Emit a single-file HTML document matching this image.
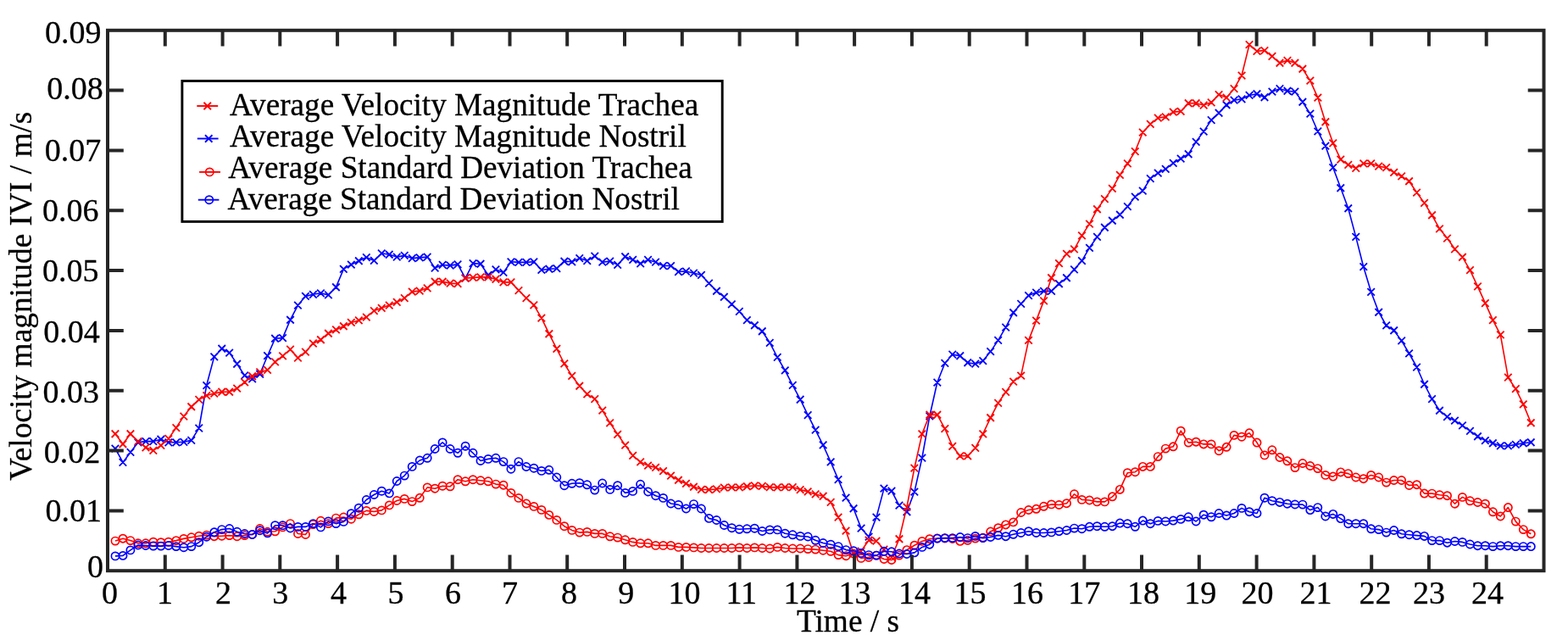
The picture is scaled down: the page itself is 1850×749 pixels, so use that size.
<!DOCTYPE html>
<html><head><meta charset="utf-8"><title>Velocity magnitude</title>
<style>html,body{margin:0;padding:0;background:#fff;width:1850px;height:749px;overflow:hidden}svg{display:block}text{font-family:"Liberation Serif",serif;fill:#000;stroke:#000;stroke-width:0.3px}</style>
</head><body>
<svg width="1850" height="749" viewBox="0 0 1850 749">
<path d="M136.0 529.0 L145.0 545.4 L153.9 533.4 L162.9 521.8 L171.9 520.6 L180.9 520.6 L189.9 518.2 L198.8 521.8 L207.8 521.8 L216.8 521.3 L225.8 519.4 L234.8 505.0 L243.7 454.5 L252.7 420.9 L261.7 411.2 L270.7 416.1 L279.7 429.3 L288.6 443.0 L297.6 446.8 L306.6 441.3 L315.6 419.7 L324.6 399.2 L333.5 398.6 L342.5 377.2 L351.5 360.1 L360.5 349.4 L369.5 347.3 L378.4 345.8 L387.4 347.9 L396.4 338.8 L405.4 317.4 L414.4 312.1 L423.3 307.8 L432.3 303.5 L441.3 307.4 L450.3 298.8 L459.3 300.3 L468.2 303.1 L477.2 301.4 L486.2 304.6 L495.2 303.9 L504.2 303.1 L513.1 316.1 L522.1 312.5 L531.1 313.1 L540.1 311.9 L549.1 328.1 L558.0 310.6 L567.0 311.2 L576.0 324.5 L585.0 317.9 L594.0 321.5 L602.9 308.8 L611.9 309.4 L620.9 309.4 L629.9 308.8 L638.9 318.5 L647.8 317.3 L656.8 316.7 L665.8 308.2 L674.8 308.8 L683.8 304.6 L692.7 307.6 L701.7 302.2 L710.7 309.2 L719.7 308.1 L728.7 312.4 L737.6 302.7 L746.6 306.5 L755.6 310.8 L764.6 306.5 L773.6 309.2 L782.5 313.5 L791.5 313.5 L800.5 320.5 L809.5 320.0 L818.5 322.2 L827.4 324.3 L836.4 334.1 L845.4 343.2 L854.4 350.3 L863.4 358.9 L872.3 367.5 L881.3 377.6 L890.3 383.7 L899.3 390.8 L908.3 404.3 L917.2 421.5 L926.2 436.8 L935.2 454.3 L944.2 471.2 L953.2 489.7 L962.1 507.2 L971.1 525.0 L980.1 544.9 L989.1 565.7 L998.1 587.1 L1007.0 599.7 L1016.0 623.1 L1025.0 633.2 L1034.0 610.1 L1043.0 576.1 L1051.9 579.1 L1060.9 596.1 L1069.9 603.7 L1078.9 580.1 L1087.9 540.0 L1096.8 491.0 L1105.8 451.0 L1114.8 428.5 L1123.8 418.1 L1132.8 419.8 L1141.7 427.8 L1150.7 429.2 L1159.7 425.7 L1168.7 414.6 L1177.7 401.4 L1186.6 386.1 L1195.6 368.8 L1204.6 358.3 L1213.6 348.6 L1222.6 345.1 L1231.5 343.4 L1240.5 343.4 L1249.5 334.7 L1258.5 327.8 L1267.5 317.9 L1276.4 307.7 L1285.4 292.3 L1294.4 279.5 L1303.4 268.3 L1312.4 260.3 L1321.3 253.2 L1330.3 243.6 L1339.3 232.1 L1348.3 225.0 L1357.3 210.6 L1366.2 204.2 L1375.2 199.4 L1384.2 192.3 L1393.2 187.2 L1402.2 181.7 L1411.1 167.3 L1420.1 155.1 L1429.1 141.7 L1438.1 133.3 L1447.1 123.8 L1456.0 118.2 L1465.0 116.8 L1474.0 112.5 L1483.0 110.7 L1492.0 114.7 L1500.9 108.1 L1509.9 104.7 L1518.9 107.3 L1527.9 108.1 L1536.9 120.3 L1545.8 134.2 L1554.8 155.0 L1563.8 172.1 L1572.8 197.7 L1581.8 221.7 L1590.7 245.8 L1599.7 279.4 L1608.7 314.7 L1617.7 344.5 L1626.7 368.2 L1635.6 384.0 L1644.6 389.7 L1653.6 401.9 L1662.6 417.0 L1671.6 433.0 L1680.5 453.2 L1689.5 470.5 L1698.5 484.3 L1707.5 491.7 L1716.5 496.2 L1725.4 501.9 L1734.4 508.3 L1743.4 514.7 L1752.4 519.6 L1761.4 522.8 L1770.3 526.0 L1779.3 526.0 L1788.3 524.4 L1797.3 522.8 L1806.3 521.8" fill="none" stroke="#0000ff" stroke-width="1.6" stroke-linejoin="round"/>
<path d="M131.7 524.8l8.5 8.5M131.7 533.3l8.5 -8.5M140.7 541.1l8.5 8.5M140.7 549.6l8.5 -8.5M149.7 529.1l8.5 8.5M149.7 537.6l8.5 -8.5M158.7 517.6l8.5 8.5M158.7 526.1l8.5 -8.5M167.7 516.4l8.5 8.5M167.7 524.9l8.5 -8.5M176.6 516.4l8.5 8.5M176.6 524.9l8.5 -8.5M185.6 514.0l8.5 8.5M185.6 522.5l8.5 -8.5M194.6 517.6l8.5 8.5M194.6 526.1l8.5 -8.5M203.6 517.6l8.5 8.5M203.6 526.1l8.5 -8.5M212.6 517.1l8.5 8.5M212.6 525.6l8.5 -8.5M221.5 515.2l8.5 8.5M221.5 523.7l8.5 -8.5M230.5 500.8l8.5 8.5M230.5 509.2l8.5 -8.5M239.5 450.3l8.5 8.5M239.5 458.8l8.5 -8.5M248.5 416.6l8.5 8.5M248.5 425.1l8.5 -8.5M257.5 407.0l8.5 8.5M257.5 415.5l8.5 -8.5M266.4 411.8l8.5 8.5M266.4 420.3l8.5 -8.5M275.4 425.0l8.5 8.5M275.4 433.5l8.5 -8.5M284.4 438.7l8.5 8.5M284.4 447.2l8.5 -8.5M293.4 442.6l8.5 8.5M293.4 451.1l8.5 -8.5M302.4 437.0l8.5 8.5M302.4 445.5l8.5 -8.5M311.3 415.4l8.5 8.5M311.3 423.9l8.5 -8.5M320.3 395.0l8.5 8.5M320.3 403.5l8.5 -8.5M329.3 394.3l8.5 8.5M329.3 402.8l8.5 -8.5M338.3 373.0l8.5 8.5M338.3 381.5l8.5 -8.5M347.2 355.9l8.5 8.5M347.2 364.4l8.5 -8.5M356.2 345.2l8.5 8.5M356.2 353.7l8.5 -8.5M365.2 343.1l8.5 8.5M365.2 351.6l8.5 -8.5M374.2 341.6l8.5 8.5M374.2 350.1l8.5 -8.5M383.2 343.7l8.5 8.5M383.2 352.2l8.5 -8.5M392.2 334.5l8.5 8.5M392.2 343.0l8.5 -8.5M401.1 313.1l8.5 8.5M401.1 321.6l8.5 -8.5M410.1 307.8l8.5 8.5M410.1 316.3l8.5 -8.5M419.1 303.5l8.5 8.5M419.1 312.0l8.5 -8.5M428.1 299.3l8.5 8.5M428.1 307.8l8.5 -8.5M437.1 303.1l8.5 8.5M437.1 311.6l8.5 -8.5M446.0 294.6l8.5 8.5M446.0 303.1l8.5 -8.5M455.0 296.0l8.5 8.5M455.0 304.5l8.5 -8.5M464.0 298.8l8.5 8.5M464.0 307.3l8.5 -8.5M473.0 297.1l8.5 8.5M473.0 305.6l8.5 -8.5M482.0 300.3l8.5 8.5M482.0 308.8l8.5 -8.5M490.9 299.7l8.5 8.5M490.9 308.2l8.5 -8.5M499.9 298.8l8.5 8.5M499.9 307.3l8.5 -8.5M508.9 311.8l8.5 8.5M508.9 320.3l8.5 -8.5M517.9 308.2l8.5 8.5M517.9 316.7l8.5 -8.5M526.9 308.8l8.5 8.5M526.9 317.3l8.5 -8.5M535.8 307.6l8.5 8.5M535.8 316.1l8.5 -8.5M544.8 323.8l8.5 8.5M544.8 332.3l8.5 -8.5M553.8 306.4l8.5 8.5M553.8 314.9l8.5 -8.5M562.8 307.0l8.5 8.5M562.8 315.5l8.5 -8.5M571.8 320.2l8.5 8.5M571.8 328.7l8.5 -8.5M580.7 313.6l8.5 8.5M580.7 322.1l8.5 -8.5M589.7 317.2l8.5 8.5M589.7 325.7l8.5 -8.5M598.7 304.6l8.5 8.5M598.7 313.1l8.5 -8.5M607.7 305.2l8.5 8.5M607.7 313.7l8.5 -8.5M616.7 305.2l8.5 8.5M616.7 313.7l8.5 -8.5M625.6 304.6l8.5 8.5M625.6 313.1l8.5 -8.5M634.6 314.2l8.5 8.5M634.6 322.7l8.5 -8.5M643.6 313.0l8.5 8.5M643.6 321.5l8.5 -8.5M652.6 312.4l8.5 8.5M652.6 320.9l8.5 -8.5M661.6 304.0l8.5 8.5M661.6 312.5l8.5 -8.5M670.5 304.6l8.5 8.5M670.5 313.1l8.5 -8.5M679.5 300.4l8.5 8.5M679.5 308.9l8.5 -8.5M688.5 303.3l8.5 8.5M688.5 311.8l8.5 -8.5M697.5 297.9l8.5 8.5M697.5 306.4l8.5 -8.5M706.5 304.9l8.5 8.5M706.5 313.4l8.5 -8.5M715.4 303.9l8.5 8.5M715.4 312.4l8.5 -8.5M724.4 308.2l8.5 8.5M724.4 316.7l8.5 -8.5M733.4 298.5l8.5 8.5M733.4 307.0l8.5 -8.5M742.4 302.2l8.5 8.5M742.4 310.7l8.5 -8.5M751.4 306.6l8.5 8.5M751.4 315.1l8.5 -8.5M760.3 302.2l8.5 8.5M760.3 310.7l8.5 -8.5M769.3 304.9l8.5 8.5M769.3 313.4l8.5 -8.5M778.3 309.3l8.5 8.5M778.3 317.8l8.5 -8.5M787.3 309.3l8.5 8.5M787.3 317.8l8.5 -8.5M796.2 316.3l8.5 8.5M796.2 324.8l8.5 -8.5M805.2 315.8l8.5 8.5M805.2 324.2l8.5 -8.5M814.2 317.9l8.5 8.5M814.2 326.4l8.5 -8.5M823.2 320.1l8.5 8.5M823.2 328.6l8.5 -8.5M832.2 329.8l8.5 8.5M832.2 338.3l8.5 -8.5M841.2 339.0l8.5 8.5M841.2 347.5l8.5 -8.5M850.1 346.0l8.5 8.5M850.1 354.5l8.5 -8.5M859.1 354.7l8.5 8.5M859.1 363.2l8.5 -8.5M868.1 363.2l8.5 8.5M868.1 371.7l8.5 -8.5M877.1 373.3l8.5 8.5M877.1 381.8l8.5 -8.5M886.1 379.5l8.5 8.5M886.1 388.0l8.5 -8.5M895.0 386.5l8.5 8.5M895.0 395.0l8.5 -8.5M904.0 400.1l8.5 8.5M904.0 408.6l8.5 -8.5M913.0 417.2l8.5 8.5M913.0 425.7l8.5 -8.5M922.0 432.6l8.5 8.5M922.0 441.1l8.5 -8.5M931.0 450.1l8.5 8.5M931.0 458.6l8.5 -8.5M939.9 467.0l8.5 8.5M939.9 475.5l8.5 -8.5M948.9 485.4l8.5 8.5M948.9 493.9l8.5 -8.5M957.9 502.9l8.5 8.5M957.9 511.4l8.5 -8.5M966.9 520.7l8.5 8.5M966.9 529.2l8.5 -8.5M975.9 540.7l8.5 8.5M975.9 549.2l8.5 -8.5M984.8 561.4l8.5 8.5M984.8 569.9l8.5 -8.5M993.8 582.8l8.5 8.5M993.8 591.3l8.5 -8.5M1002.8 595.5l8.5 8.5M1002.8 604.0l8.5 -8.5M1011.8 618.9l8.5 8.5M1011.8 627.4l8.5 -8.5M1020.8 628.9l8.5 8.5M1020.8 637.4l8.5 -8.5M1029.7 605.9l8.5 8.5M1029.7 614.4l8.5 -8.5M1038.7 571.8l8.5 8.5M1038.7 580.3l8.5 -8.5M1047.7 574.8l8.5 8.5M1047.7 583.3l8.5 -8.5M1056.7 591.9l8.5 8.5M1056.7 600.4l8.5 -8.5M1065.7 599.5l8.5 8.5M1065.7 608.0l8.5 -8.5M1074.6 575.8l8.5 8.5M1074.6 584.3l8.5 -8.5M1083.6 535.8l8.5 8.5M1083.6 544.3l8.5 -8.5M1092.6 486.7l8.5 8.5M1092.6 495.2l8.5 -8.5M1101.6 446.8l8.5 8.5M1101.6 455.3l8.5 -8.5M1110.6 424.2l8.5 8.5M1110.6 432.7l8.5 -8.5M1119.5 413.8l8.5 8.5M1119.5 422.3l8.5 -8.5M1128.5 415.5l8.5 8.5M1128.5 424.0l8.5 -8.5M1137.5 423.5l8.5 8.5M1137.5 432.0l8.5 -8.5M1146.5 424.9l8.5 8.5M1146.5 433.4l8.5 -8.5M1155.5 421.4l8.5 8.5M1155.5 429.9l8.5 -8.5M1164.4 410.3l8.5 8.5M1164.4 418.8l8.5 -8.5M1173.4 397.1l8.5 8.5M1173.4 405.6l8.5 -8.5M1182.4 381.9l8.5 8.5M1182.4 390.4l8.5 -8.5M1191.4 364.5l8.5 8.5M1191.4 373.0l8.5 -8.5M1200.4 354.1l8.5 8.5M1200.4 362.6l8.5 -8.5M1209.3 344.4l8.5 8.5M1209.3 352.9l8.5 -8.5M1218.3 340.9l8.5 8.5M1218.3 349.4l8.5 -8.5M1227.3 339.2l8.5 8.5M1227.3 347.7l8.5 -8.5M1236.3 339.2l8.5 8.5M1236.3 347.7l8.5 -8.5M1245.2 330.5l8.5 8.5M1245.2 339.0l8.5 -8.5M1254.2 323.5l8.5 8.5M1254.2 332.0l8.5 -8.5M1263.2 313.7l8.5 8.5M1263.2 322.2l8.5 -8.5M1272.2 303.4l8.5 8.5M1272.2 311.9l8.5 -8.5M1281.2 288.1l8.5 8.5M1281.2 296.6l8.5 -8.5M1290.2 275.2l8.5 8.5M1290.2 283.7l8.5 -8.5M1299.1 264.0l8.5 8.5M1299.1 272.5l8.5 -8.5M1308.1 256.0l8.5 8.5M1308.1 264.5l8.5 -8.5M1317.1 249.0l8.5 8.5M1317.1 257.5l8.5 -8.5M1326.1 239.3l8.5 8.5M1326.1 247.8l8.5 -8.5M1335.0 227.8l8.5 8.5M1335.0 236.3l8.5 -8.5M1344.0 220.8l8.5 8.5M1344.0 229.2l8.5 -8.5M1353.0 206.3l8.5 8.5M1353.0 214.8l8.5 -8.5M1362.0 199.9l8.5 8.5M1362.0 208.4l8.5 -8.5M1371.0 195.1l8.5 8.5M1371.0 203.6l8.5 -8.5M1380.0 188.1l8.5 8.5M1380.0 196.6l8.5 -8.5M1388.9 182.9l8.5 8.5M1388.9 191.4l8.5 -8.5M1397.9 177.5l8.5 8.5M1397.9 186.0l8.5 -8.5M1406.9 163.1l8.5 8.5M1406.9 171.6l8.5 -8.5M1415.9 150.9l8.5 8.5M1415.9 159.4l8.5 -8.5M1424.9 137.4l8.5 8.5M1424.9 145.9l8.5 -8.5M1433.8 129.0l8.5 8.5M1433.8 137.5l8.5 -8.5M1442.8 119.5l8.5 8.5M1442.8 128.0l8.5 -8.5M1451.8 113.9l8.5 8.5M1451.8 122.4l8.5 -8.5M1460.8 112.6l8.5 8.5M1460.8 121.1l8.5 -8.5M1469.8 108.2l8.5 8.5M1469.8 116.7l8.5 -8.5M1478.7 106.5l8.5 8.5M1478.7 115.0l8.5 -8.5M1487.7 110.5l8.5 8.5M1487.7 119.0l8.5 -8.5M1496.7 103.9l8.5 8.5M1496.7 112.4l8.5 -8.5M1505.7 100.4l8.5 8.5M1505.7 108.9l8.5 -8.5M1514.7 103.0l8.5 8.5M1514.7 111.5l8.5 -8.5M1523.6 103.9l8.5 8.5M1523.6 112.4l8.5 -8.5M1532.6 116.0l8.5 8.5M1532.6 124.5l8.5 -8.5M1541.6 129.9l8.5 8.5M1541.6 138.4l8.5 -8.5M1550.6 150.8l8.5 8.5M1550.6 159.2l8.5 -8.5M1559.6 167.8l8.5 8.5M1559.6 176.3l8.5 -8.5M1568.5 193.4l8.5 8.5M1568.5 201.9l8.5 -8.5M1577.5 217.5l8.5 8.5M1577.5 226.0l8.5 -8.5M1586.5 241.5l8.5 8.5M1586.5 250.0l8.5 -8.5M1595.5 275.2l8.5 8.5M1595.5 283.7l8.5 -8.5M1604.5 310.4l8.5 8.5M1604.5 318.9l8.5 -8.5M1613.4 340.2l8.5 8.5M1613.4 348.7l8.5 -8.5M1622.4 364.0l8.5 8.5M1622.4 372.5l8.5 -8.5M1631.4 379.7l8.5 8.5M1631.4 388.2l8.5 -8.5M1640.4 385.5l8.5 8.5M1640.4 394.0l8.5 -8.5M1649.4 397.7l8.5 8.5M1649.4 406.2l8.5 -8.5M1658.3 412.7l8.5 8.5M1658.3 421.2l8.5 -8.5M1667.3 428.8l8.5 8.5M1667.3 437.3l8.5 -8.5M1676.3 449.0l8.5 8.5M1676.3 457.5l8.5 -8.5M1685.3 466.3l8.5 8.5M1685.3 474.8l8.5 -8.5M1694.2 480.0l8.5 8.5M1694.2 488.5l8.5 -8.5M1703.2 487.4l8.5 8.5M1703.2 495.9l8.5 -8.5M1712.2 491.9l8.5 8.5M1712.2 500.4l8.5 -8.5M1721.2 497.7l8.5 8.5M1721.2 506.2l8.5 -8.5M1730.2 504.1l8.5 8.5M1730.2 512.6l8.5 -8.5M1739.2 510.5l8.5 8.5M1739.2 519.0l8.5 -8.5M1748.1 515.3l8.5 8.5M1748.1 523.8l8.5 -8.5M1757.1 518.5l8.5 8.5M1757.1 527.0l8.5 -8.5M1766.1 521.7l8.5 8.5M1766.1 530.2l8.5 -8.5M1775.1 521.7l8.5 8.5M1775.1 530.2l8.5 -8.5M1784.1 520.1l8.5 8.5M1784.1 528.6l8.5 -8.5M1793.0 518.5l8.5 8.5M1793.0 527.0l8.5 -8.5M1802.0 517.5l8.5 8.5M1802.0 526.0l8.5 -8.5" fill="none" stroke="#0000ff" stroke-width="1.8"/>
<path d="M136.0 511.7 L145.0 523.8 L153.9 511.7 L162.9 520.6 L171.9 527.8 L180.9 531.4 L189.9 525.4 L198.8 517.5 L207.8 504.5 L216.8 491.1 L225.8 479.8 L234.8 471.3 L243.7 466.5 L252.7 464.1 L261.7 462.2 L270.7 462.2 L279.7 458.1 L288.6 450.9 L297.6 443.7 L306.6 438.9 L315.6 436.5 L324.6 426.9 L333.5 420.0 L342.5 412.1 L351.5 422.1 L360.5 415.0 L369.5 405.0 L378.4 400.7 L387.4 393.2 L396.4 389.0 L405.4 384.7 L414.4 380.4 L423.3 377.9 L432.3 374.0 L441.3 366.5 L450.3 363.3 L459.3 360.1 L468.2 356.5 L477.2 351.6 L486.2 344.1 L495.2 343.0 L504.2 339.8 L513.1 332.3 L522.1 332.3 L531.1 334.1 L540.1 334.7 L549.1 328.1 L558.0 327.5 L567.0 326.9 L576.0 326.9 L585.0 329.3 L594.0 332.9 L602.9 332.9 L611.9 342.5 L620.9 351.5 L629.9 359.9 L638.9 375.1 L647.8 393.7 L656.8 411.3 L665.8 429.0 L674.8 443.4 L683.8 455.3 L692.7 464.9 L701.7 470.6 L710.7 484.1 L719.7 498.8 L728.7 512.3 L737.6 525.1 L746.6 537.3 L755.6 545.0 L764.6 549.2 L773.6 551.4 L782.5 555.6 L791.5 561.2 L800.5 566.3 L809.5 570.4 L818.5 574.2 L827.4 577.3 L836.4 577.6 L845.4 577.0 L854.4 575.2 L863.4 574.9 L872.3 574.9 L881.3 573.8 L890.3 572.8 L899.3 573.4 L908.3 574.6 L917.2 574.9 L926.2 574.6 L935.2 574.6 L944.2 577.6 L953.2 579.9 L962.1 582.9 L971.1 585.3 L980.1 592.4 L989.1 610.1 L998.1 626.1 L1007.0 653.0 L1016.0 650.0 L1025.0 637.2 L1034.0 638.2 L1043.0 648.2 L1051.9 657.2 L1060.9 635.8 L1069.9 598.1 L1078.9 552.0 L1087.9 511.8 L1096.8 489.2 L1105.8 489.2 L1114.8 505.6 L1123.8 526.4 L1132.8 537.8 L1141.7 537.8 L1150.7 528.5 L1159.7 511.8 L1168.7 492.7 L1177.7 475.3 L1186.6 462.5 L1195.6 450.0 L1204.6 443.1 L1213.6 401.4 L1222.6 378.1 L1231.5 354.9 L1240.5 327.8 L1249.5 310.5 L1258.5 299.4 L1267.5 293.9 L1276.4 277.9 L1285.4 264.1 L1294.4 246.8 L1303.4 234.6 L1312.4 222.4 L1321.3 206.4 L1330.3 192.9 L1339.3 178.5 L1348.3 156.1 L1357.3 146.5 L1366.2 139.1 L1375.2 137.8 L1384.2 132.1 L1393.2 131.4 L1402.2 121.8 L1411.1 121.8 L1420.1 124.0 L1429.1 120.8 L1438.1 111.6 L1447.1 115.1 L1456.0 104.7 L1465.0 89.0 L1474.0 52.6 L1483.0 60.4 L1492.0 59.5 L1500.9 66.5 L1509.9 74.3 L1518.9 71.3 L1527.9 74.3 L1536.9 81.2 L1545.8 95.1 L1554.8 115.1 L1563.8 143.7 L1572.8 168.8 L1581.8 188.1 L1590.7 194.5 L1599.7 198.3 L1608.7 192.9 L1617.7 192.9 L1626.7 196.1 L1635.6 197.7 L1644.6 203.5 L1653.6 207.9 L1662.6 213.7 L1671.6 227.2 L1680.5 239.4 L1689.5 253.8 L1698.5 269.8 L1707.5 281.0 L1716.5 293.8 L1725.4 303.2 L1734.4 318.6 L1743.4 337.8 L1752.4 357.7 L1761.4 377.6 L1770.3 394.9 L1779.3 445.2 L1788.3 458.7 L1797.3 476.9 L1806.3 498.7" fill="none" stroke="#ff0000" stroke-width="1.6" stroke-linejoin="round"/>
<path d="M131.7 507.5l8.5 8.5M131.7 516.0l8.5 -8.5M140.7 519.5l8.5 8.5M140.7 528.0l8.5 -8.5M149.7 507.5l8.5 8.5M149.7 516.0l8.5 -8.5M158.7 516.4l8.5 8.5M158.7 524.9l8.5 -8.5M167.7 523.6l8.5 8.5M167.7 532.1l8.5 -8.5M176.6 527.2l8.5 8.5M176.6 535.7l8.5 -8.5M185.6 521.2l8.5 8.5M185.6 529.7l8.5 -8.5M194.6 513.2l8.5 8.5M194.6 521.8l8.5 -8.5M203.6 500.3l8.5 8.5M203.6 508.8l8.5 -8.5M212.6 486.8l8.5 8.5M212.6 495.3l8.5 -8.5M221.5 475.5l8.5 8.5M221.5 484.0l8.5 -8.5M230.5 467.1l8.5 8.5M230.5 475.6l8.5 -8.5M239.5 462.3l8.5 8.5M239.5 470.8l8.5 -8.5M248.5 459.9l8.5 8.5M248.5 468.4l8.5 -8.5M257.5 458.0l8.5 8.5M257.5 466.5l8.5 -8.5M266.4 458.0l8.5 8.5M266.4 466.5l8.5 -8.5M275.4 453.9l8.5 8.5M275.4 462.4l8.5 -8.5M284.4 446.7l8.5 8.5M284.4 455.2l8.5 -8.5M293.4 439.5l8.5 8.5M293.4 448.0l8.5 -8.5M302.4 434.6l8.5 8.5M302.4 443.1l8.5 -8.5M311.3 432.2l8.5 8.5M311.3 440.7l8.5 -8.5M320.3 422.6l8.5 8.5M320.3 431.1l8.5 -8.5M329.3 415.7l8.5 8.5M329.3 424.2l8.5 -8.5M338.3 407.8l8.5 8.5M338.3 416.3l8.5 -8.5M347.2 417.8l8.5 8.5M347.2 426.3l8.5 -8.5M356.2 410.8l8.5 8.5M356.2 419.3l8.5 -8.5M365.2 400.8l8.5 8.5M365.2 409.2l8.5 -8.5M374.2 396.5l8.5 8.5M374.2 405.0l8.5 -8.5M383.2 389.0l8.5 8.5M383.2 397.5l8.5 -8.5M392.2 384.7l8.5 8.5M392.2 393.2l8.5 -8.5M401.1 380.5l8.5 8.5M401.1 389.0l8.5 -8.5M410.1 376.2l8.5 8.5M410.1 384.7l8.5 -8.5M419.1 373.6l8.5 8.5M419.1 382.1l8.5 -8.5M428.1 369.8l8.5 8.5M428.1 378.3l8.5 -8.5M437.1 362.3l8.5 8.5M437.1 370.8l8.5 -8.5M446.0 359.1l8.5 8.5M446.0 367.6l8.5 -8.5M455.0 355.9l8.5 8.5M455.0 364.4l8.5 -8.5M464.0 352.2l8.5 8.5M464.0 360.7l8.5 -8.5M473.0 347.3l8.5 8.5M473.0 355.8l8.5 -8.5M482.0 339.9l8.5 8.5M482.0 348.4l8.5 -8.5M490.9 338.8l8.5 8.5M490.9 347.3l8.5 -8.5M499.9 335.6l8.5 8.5M499.9 344.1l8.5 -8.5M508.9 328.0l8.5 8.5M508.9 336.5l8.5 -8.5M517.9 328.0l8.5 8.5M517.9 336.5l8.5 -8.5M526.9 329.8l8.5 8.5M526.9 338.3l8.5 -8.5M535.8 330.4l8.5 8.5M535.8 338.9l8.5 -8.5M544.8 323.8l8.5 8.5M544.8 332.3l8.5 -8.5M553.8 323.2l8.5 8.5M553.8 331.7l8.5 -8.5M562.8 322.6l8.5 8.5M562.8 331.1l8.5 -8.5M571.8 322.6l8.5 8.5M571.8 331.1l8.5 -8.5M580.7 325.0l8.5 8.5M580.7 333.5l8.5 -8.5M589.7 328.6l8.5 8.5M589.7 337.1l8.5 -8.5M598.7 328.6l8.5 8.5M598.7 337.1l8.5 -8.5M607.7 338.2l8.5 8.5M607.7 346.8l8.5 -8.5M616.7 347.3l8.5 8.5M616.7 355.8l8.5 -8.5M625.6 355.7l8.5 8.5M625.6 364.2l8.5 -8.5M634.6 370.9l8.5 8.5M634.6 379.4l8.5 -8.5M643.6 389.5l8.5 8.5M643.6 398.0l8.5 -8.5M652.6 407.1l8.5 8.5M652.6 415.6l8.5 -8.5M661.6 424.7l8.5 8.5M661.6 433.2l8.5 -8.5M670.5 439.1l8.5 8.5M670.5 447.6l8.5 -8.5M679.5 451.0l8.5 8.5M679.5 459.5l8.5 -8.5M688.5 460.6l8.5 8.5M688.5 469.1l8.5 -8.5M697.5 466.4l8.5 8.5M697.5 474.9l8.5 -8.5M706.5 479.9l8.5 8.5M706.5 488.4l8.5 -8.5M715.4 494.6l8.5 8.5M715.4 503.1l8.5 -8.5M724.4 508.1l8.5 8.5M724.4 516.6l8.5 -8.5M733.4 520.9l8.5 8.5M733.4 529.4l8.5 -8.5M742.4 533.1l8.5 8.5M742.4 541.6l8.5 -8.5M751.4 540.8l8.5 8.5M751.4 549.2l8.5 -8.5M760.3 544.9l8.5 8.5M760.3 553.4l8.5 -8.5M769.3 547.2l8.5 8.5M769.3 555.7l8.5 -8.5M778.3 551.3l8.5 8.5M778.3 559.8l8.5 -8.5M787.3 556.9l8.5 8.5M787.3 565.4l8.5 -8.5M796.2 562.0l8.5 8.5M796.2 570.5l8.5 -8.5M805.2 566.2l8.5 8.5M805.2 574.7l8.5 -8.5M814.2 570.0l8.5 8.5M814.2 578.5l8.5 -8.5M823.2 573.1l8.5 8.5M823.2 581.6l8.5 -8.5M832.2 573.3l8.5 8.5M832.2 581.8l8.5 -8.5M841.2 572.7l8.5 8.5M841.2 581.2l8.5 -8.5M850.1 570.9l8.5 8.5M850.1 579.4l8.5 -8.5M859.1 570.7l8.5 8.5M859.1 579.2l8.5 -8.5M868.1 570.7l8.5 8.5M868.1 579.2l8.5 -8.5M877.1 569.5l8.5 8.5M877.1 578.0l8.5 -8.5M886.1 568.6l8.5 8.5M886.1 577.1l8.5 -8.5M895.0 569.2l8.5 8.5M895.0 577.7l8.5 -8.5M904.0 570.3l8.5 8.5M904.0 578.8l8.5 -8.5M913.0 570.7l8.5 8.5M913.0 579.2l8.5 -8.5M922.0 570.3l8.5 8.5M922.0 578.8l8.5 -8.5M931.0 570.3l8.5 8.5M931.0 578.8l8.5 -8.5M939.9 573.3l8.5 8.5M939.9 581.8l8.5 -8.5M948.9 575.7l8.5 8.5M948.9 584.2l8.5 -8.5M957.9 578.7l8.5 8.5M957.9 587.2l8.5 -8.5M966.9 581.0l8.5 8.5M966.9 589.5l8.5 -8.5M975.9 588.2l8.5 8.5M975.9 596.7l8.5 -8.5M984.8 605.9l8.5 8.5M984.8 614.4l8.5 -8.5M993.8 621.9l8.5 8.5M993.8 630.4l8.5 -8.5M1002.8 648.8l8.5 8.5M1002.8 657.2l8.5 -8.5M1011.8 645.8l8.5 8.5M1011.8 654.2l8.5 -8.5M1020.8 632.9l8.5 8.5M1020.8 641.4l8.5 -8.5M1029.7 633.9l8.5 8.5M1029.7 642.4l8.5 -8.5M1038.7 643.9l8.5 8.5M1038.7 652.4l8.5 -8.5M1047.7 652.9l8.5 8.5M1047.7 661.4l8.5 -8.5M1056.7 631.5l8.5 8.5M1056.7 640.0l8.5 -8.5M1065.7 593.9l8.5 8.5M1065.7 602.4l8.5 -8.5M1074.6 547.8l8.5 8.5M1074.6 556.3l8.5 -8.5M1083.6 507.6l8.5 8.5M1083.6 516.1l8.5 -8.5M1092.6 485.0l8.5 8.5M1092.6 493.5l8.5 -8.5M1101.6 485.0l8.5 8.5M1101.6 493.5l8.5 -8.5M1110.6 501.3l8.5 8.5M1110.6 509.8l8.5 -8.5M1119.5 522.1l8.5 8.5M1119.5 530.6l8.5 -8.5M1128.5 533.6l8.5 8.5M1128.5 542.1l8.5 -8.5M1137.5 533.6l8.5 8.5M1137.5 542.1l8.5 -8.5M1146.5 524.2l8.5 8.5M1146.5 532.7l8.5 -8.5M1155.5 507.6l8.5 8.5M1155.5 516.1l8.5 -8.5M1164.4 488.5l8.5 8.5M1164.4 497.0l8.5 -8.5M1173.4 471.1l8.5 8.5M1173.4 479.6l8.5 -8.5M1182.4 458.2l8.5 8.5M1182.4 466.8l8.5 -8.5M1191.4 445.8l8.5 8.5M1191.4 454.2l8.5 -8.5M1200.4 438.8l8.5 8.5M1200.4 447.3l8.5 -8.5M1209.3 397.1l8.5 8.5M1209.3 405.6l8.5 -8.5M1218.3 373.9l8.5 8.5M1218.3 382.4l8.5 -8.5M1227.3 350.6l8.5 8.5M1227.3 359.1l8.5 -8.5M1236.3 323.5l8.5 8.5M1236.3 332.0l8.5 -8.5M1245.2 306.3l8.5 8.5M1245.2 314.8l8.5 -8.5M1254.2 295.1l8.5 8.5M1254.2 303.6l8.5 -8.5M1263.2 289.7l8.5 8.5M1263.2 298.2l8.5 -8.5M1272.2 273.6l8.5 8.5M1272.2 282.1l8.5 -8.5M1281.2 259.9l8.5 8.5M1281.2 268.4l8.5 -8.5M1290.2 242.5l8.5 8.5M1290.2 251.0l8.5 -8.5M1299.1 230.4l8.5 8.5M1299.1 238.9l8.5 -8.5M1308.1 218.2l8.5 8.5M1308.1 226.7l8.5 -8.5M1317.1 202.2l8.5 8.5M1317.1 210.7l8.5 -8.5M1326.1 188.7l8.5 8.5M1326.1 197.2l8.5 -8.5M1335.0 174.3l8.5 8.5M1335.0 182.8l8.5 -8.5M1344.0 151.8l8.5 8.5M1344.0 160.3l8.5 -8.5M1353.0 142.2l8.5 8.5M1353.0 150.7l8.5 -8.5M1362.0 134.9l8.5 8.5M1362.0 143.4l8.5 -8.5M1371.0 133.6l8.5 8.5M1371.0 142.1l8.5 -8.5M1380.0 127.8l8.5 8.5M1380.0 136.3l8.5 -8.5M1388.9 127.2l8.5 8.5M1388.9 135.7l8.5 -8.5M1397.9 117.5l8.5 8.5M1397.9 126.0l8.5 -8.5M1406.9 117.5l8.5 8.5M1406.9 126.0l8.5 -8.5M1415.9 119.8l8.5 8.5M1415.9 128.3l8.5 -8.5M1424.9 116.6l8.5 8.5M1424.9 125.1l8.5 -8.5M1433.8 107.3l8.5 8.5M1433.8 115.8l8.5 -8.5M1442.8 110.8l8.5 8.5M1442.8 119.3l8.5 -8.5M1451.8 100.4l8.5 8.5M1451.8 108.9l8.5 -8.5M1460.8 84.8l8.5 8.5M1460.8 93.3l8.5 -8.5M1469.8 48.3l8.5 8.5M1469.8 56.8l8.5 -8.5M1478.7 56.1l8.5 8.5M1478.7 64.6l8.5 -8.5M1487.7 55.3l8.5 8.5M1487.7 63.8l8.5 -8.5M1496.7 62.2l8.5 8.5M1496.7 70.7l8.5 -8.5M1505.7 70.0l8.5 8.5M1505.7 78.5l8.5 -8.5M1514.7 67.1l8.5 8.5M1514.7 75.6l8.5 -8.5M1523.6 70.0l8.5 8.5M1523.6 78.5l8.5 -8.5M1532.6 77.0l8.5 8.5M1532.6 85.5l8.5 -8.5M1541.6 90.9l8.5 8.5M1541.6 99.4l8.5 -8.5M1550.6 110.8l8.5 8.5M1550.6 119.3l8.5 -8.5M1559.6 139.5l8.5 8.5M1559.6 148.0l8.5 -8.5M1568.5 164.6l8.5 8.5M1568.5 173.1l8.5 -8.5M1577.5 183.8l8.5 8.5M1577.5 192.3l8.5 -8.5M1586.5 190.2l8.5 8.5M1586.5 198.7l8.5 -8.5M1595.5 194.1l8.5 8.5M1595.5 202.6l8.5 -8.5M1604.5 188.6l8.5 8.5M1604.5 197.1l8.5 -8.5M1613.4 188.6l8.5 8.5M1613.4 197.1l8.5 -8.5M1622.4 191.8l8.5 8.5M1622.4 200.3l8.5 -8.5M1631.4 193.4l8.5 8.5M1631.4 201.9l8.5 -8.5M1640.4 199.2l8.5 8.5M1640.4 207.7l8.5 -8.5M1649.4 203.7l8.5 8.5M1649.4 212.2l8.5 -8.5M1658.3 209.5l8.5 8.5M1658.3 218.0l8.5 -8.5M1667.3 222.9l8.5 8.5M1667.3 231.4l8.5 -8.5M1676.3 235.1l8.5 8.5M1676.3 243.6l8.5 -8.5M1685.3 249.5l8.5 8.5M1685.3 258.0l8.5 -8.5M1694.2 265.6l8.5 8.5M1694.2 274.1l8.5 -8.5M1703.2 276.8l8.5 8.5M1703.2 285.3l8.5 -8.5M1712.2 289.6l8.5 8.5M1712.2 298.1l8.5 -8.5M1721.2 299.0l8.5 8.5M1721.2 307.5l8.5 -8.5M1730.2 314.3l8.5 8.5M1730.2 322.8l8.5 -8.5M1739.2 333.6l8.5 8.5M1739.2 342.1l8.5 -8.5M1748.1 353.4l8.5 8.5M1748.1 361.9l8.5 -8.5M1757.1 373.3l8.5 8.5M1757.1 381.8l8.5 -8.5M1766.1 390.6l8.5 8.5M1766.1 399.1l8.5 -8.5M1775.1 440.9l8.5 8.5M1775.1 449.4l8.5 -8.5M1784.1 454.4l8.5 8.5M1784.1 462.9l8.5 -8.5M1793.0 472.7l8.5 8.5M1793.0 481.2l8.5 -8.5M1802.0 494.5l8.5 8.5M1802.0 503.0l8.5 -8.5" fill="none" stroke="#ff0000" stroke-width="1.8"/>
<path d="M136.0 638.1 L145.0 635.2 L153.9 637.6 L162.9 640.8 L171.9 640.8 L180.9 639.2 L189.9 639.7 L198.8 639.2 L207.8 637.6 L216.8 635.4 L225.8 633.8 L234.8 632.2 L243.7 631.1 L252.7 632.7 L261.7 632.2 L270.7 631.6 L279.7 632.7 L288.6 631.6 L297.6 630.5 L306.6 623.5 L315.6 627.3 L324.6 626.8 L333.5 621.9 L342.5 617.6 L351.5 629.5 L360.5 630.5 L369.5 618.6 L378.4 614.3 L387.4 617.6 L396.4 611.1 L405.4 610.0 L414.4 612.2 L423.3 606.8 L432.3 602.4 L441.3 603.5 L450.3 601.9 L459.3 595.9 L468.2 590.5 L477.2 588.4 L486.2 591.6 L495.2 587.3 L504.2 574.9 L513.1 576.2 L522.1 573.2 L531.1 573.8 L540.1 565.7 L549.1 567.8 L558.0 565.7 L567.0 566.8 L576.0 567.8 L585.0 571.1 L594.0 572.2 L602.9 581.4 L611.9 587.4 L620.9 594.0 L629.9 597.4 L638.9 601.4 L647.8 607.4 L656.8 613.4 L665.8 620.7 L674.8 625.4 L683.8 628.1 L692.7 627.4 L701.7 629.4 L710.7 629.4 L719.7 632.8 L728.7 634.1 L737.6 636.8 L746.6 639.4 L755.6 640.8 L764.6 640.8 L773.6 643.4 L782.5 643.4 L791.5 643.4 L800.5 645.4 L809.5 645.4 L818.5 645.9 L827.4 646.5 L836.4 646.5 L845.4 646.5 L854.4 646.5 L863.4 646.5 L872.3 645.9 L881.3 646.5 L890.3 645.9 L899.3 646.5 L908.3 647.0 L917.2 645.4 L926.2 646.5 L935.2 647.0 L944.2 647.0 L953.2 647.6 L962.1 648.1 L971.1 649.2 L980.1 650.3 L989.1 654.6 L998.1 655.7 L1007.0 653.0 L1016.0 658.4 L1025.0 657.3 L1034.0 655.1 L1043.0 659.5 L1051.9 660.5 L1060.9 655.1 L1069.9 648.6 L1078.9 643.2 L1087.9 638.4 L1096.8 635.7 L1105.8 635.0 L1114.8 635.0 L1123.8 635.5 L1132.8 638.4 L1141.7 637.3 L1150.7 635.1 L1159.7 634.1 L1168.7 627.0 L1177.7 622.7 L1186.6 618.9 L1195.6 615.9 L1204.6 604.5 L1213.6 601.5 L1222.6 600.3 L1231.5 597.3 L1240.5 594.9 L1249.5 595.5 L1258.5 593.7 L1267.5 582.8 L1276.4 589.4 L1285.4 590.0 L1294.4 591.9 L1303.4 591.9 L1312.4 585.8 L1321.3 577.4 L1330.3 557.7 L1339.3 556.7 L1348.3 550.4 L1357.3 550.4 L1366.2 538.6 L1375.2 529.1 L1384.2 526.8 L1393.2 508.2 L1402.2 522.1 L1411.1 521.2 L1420.1 523.9 L1429.1 523.9 L1438.1 531.7 L1447.1 527.3 L1456.0 513.4 L1465.0 515.2 L1474.0 510.8 L1483.0 522.1 L1492.0 536.9 L1500.9 530.8 L1509.9 539.5 L1518.9 543.8 L1527.9 551.6 L1536.9 546.5 L1545.8 549.5 L1554.8 552.6 L1563.8 560.4 L1572.8 562.1 L1581.8 556.9 L1590.7 558.6 L1599.7 563.0 L1608.7 564.7 L1617.7 560.4 L1626.7 563.0 L1635.6 569.1 L1644.6 566.5 L1653.6 566.5 L1662.6 572.5 L1671.6 571.7 L1680.5 582.1 L1689.5 582.1 L1698.5 583.8 L1707.5 584.7 L1716.5 594.2 L1725.4 586.4 L1734.4 590.8 L1743.4 592.5 L1752.4 594.2 L1761.4 603.8 L1770.3 609.0 L1779.3 598.6 L1788.3 615.1 L1797.3 624.6 L1806.3 629.8" fill="none" stroke="#ff0000" stroke-width="1.6" stroke-linejoin="round"/>
<path d="M140.6 638.1a4.6 4.6 0 1 0 -9.2 0a4.6 4.6 0 1 0 9.2 0M149.6 635.2a4.6 4.6 0 1 0 -9.2 0a4.6 4.6 0 1 0 9.2 0M158.5 637.6a4.6 4.6 0 1 0 -9.2 0a4.6 4.6 0 1 0 9.2 0M167.5 640.8a4.6 4.6 0 1 0 -9.2 0a4.6 4.6 0 1 0 9.2 0M176.5 640.8a4.6 4.6 0 1 0 -9.2 0a4.6 4.6 0 1 0 9.2 0M185.5 639.2a4.6 4.6 0 1 0 -9.2 0a4.6 4.6 0 1 0 9.2 0M194.5 639.7a4.6 4.6 0 1 0 -9.2 0a4.6 4.6 0 1 0 9.2 0M203.4 639.2a4.6 4.6 0 1 0 -9.2 0a4.6 4.6 0 1 0 9.2 0M212.4 637.6a4.6 4.6 0 1 0 -9.2 0a4.6 4.6 0 1 0 9.2 0M221.4 635.4a4.6 4.6 0 1 0 -9.2 0a4.6 4.6 0 1 0 9.2 0M230.4 633.8a4.6 4.6 0 1 0 -9.2 0a4.6 4.6 0 1 0 9.2 0M239.4 632.2a4.6 4.6 0 1 0 -9.2 0a4.6 4.6 0 1 0 9.2 0M248.3 631.1a4.6 4.6 0 1 0 -9.2 0a4.6 4.6 0 1 0 9.2 0M257.3 632.7a4.6 4.6 0 1 0 -9.2 0a4.6 4.6 0 1 0 9.2 0M266.3 632.2a4.6 4.6 0 1 0 -9.2 0a4.6 4.6 0 1 0 9.2 0M275.3 631.6a4.6 4.6 0 1 0 -9.2 0a4.6 4.6 0 1 0 9.2 0M284.3 632.7a4.6 4.6 0 1 0 -9.2 0a4.6 4.6 0 1 0 9.2 0M293.2 631.6a4.6 4.6 0 1 0 -9.2 0a4.6 4.6 0 1 0 9.2 0M302.2 630.5a4.6 4.6 0 1 0 -9.2 0a4.6 4.6 0 1 0 9.2 0M311.2 623.5a4.6 4.6 0 1 0 -9.2 0a4.6 4.6 0 1 0 9.2 0M320.2 627.3a4.6 4.6 0 1 0 -9.2 0a4.6 4.6 0 1 0 9.2 0M329.2 626.8a4.6 4.6 0 1 0 -9.2 0a4.6 4.6 0 1 0 9.2 0M338.1 621.9a4.6 4.6 0 1 0 -9.2 0a4.6 4.6 0 1 0 9.2 0M347.1 617.6a4.6 4.6 0 1 0 -9.2 0a4.6 4.6 0 1 0 9.2 0M356.1 629.5a4.6 4.6 0 1 0 -9.2 0a4.6 4.6 0 1 0 9.2 0M365.1 630.5a4.6 4.6 0 1 0 -9.2 0a4.6 4.6 0 1 0 9.2 0M374.1 618.6a4.6 4.6 0 1 0 -9.2 0a4.6 4.6 0 1 0 9.2 0M383.0 614.3a4.6 4.6 0 1 0 -9.2 0a4.6 4.6 0 1 0 9.2 0M392.0 617.6a4.6 4.6 0 1 0 -9.2 0a4.6 4.6 0 1 0 9.2 0M401.0 611.1a4.6 4.6 0 1 0 -9.2 0a4.6 4.6 0 1 0 9.2 0M410.0 610.0a4.6 4.6 0 1 0 -9.2 0a4.6 4.6 0 1 0 9.2 0M419.0 612.2a4.6 4.6 0 1 0 -9.2 0a4.6 4.6 0 1 0 9.2 0M427.9 606.8a4.6 4.6 0 1 0 -9.2 0a4.6 4.6 0 1 0 9.2 0M436.9 602.4a4.6 4.6 0 1 0 -9.2 0a4.6 4.6 0 1 0 9.2 0M445.9 603.5a4.6 4.6 0 1 0 -9.2 0a4.6 4.6 0 1 0 9.2 0M454.9 601.9a4.6 4.6 0 1 0 -9.2 0a4.6 4.6 0 1 0 9.2 0M463.9 595.9a4.6 4.6 0 1 0 -9.2 0a4.6 4.6 0 1 0 9.2 0M472.8 590.5a4.6 4.6 0 1 0 -9.2 0a4.6 4.6 0 1 0 9.2 0M481.8 588.4a4.6 4.6 0 1 0 -9.2 0a4.6 4.6 0 1 0 9.2 0M490.8 591.6a4.6 4.6 0 1 0 -9.2 0a4.6 4.6 0 1 0 9.2 0M499.8 587.3a4.6 4.6 0 1 0 -9.2 0a4.6 4.6 0 1 0 9.2 0M508.8 574.9a4.6 4.6 0 1 0 -9.2 0a4.6 4.6 0 1 0 9.2 0M517.7 576.2a4.6 4.6 0 1 0 -9.2 0a4.6 4.6 0 1 0 9.2 0M526.7 573.2a4.6 4.6 0 1 0 -9.2 0a4.6 4.6 0 1 0 9.2 0M535.7 573.8a4.6 4.6 0 1 0 -9.2 0a4.6 4.6 0 1 0 9.2 0M544.7 565.7a4.6 4.6 0 1 0 -9.2 0a4.6 4.6 0 1 0 9.2 0M553.7 567.8a4.6 4.6 0 1 0 -9.2 0a4.6 4.6 0 1 0 9.2 0M562.6 565.7a4.6 4.6 0 1 0 -9.2 0a4.6 4.6 0 1 0 9.2 0M571.6 566.8a4.6 4.6 0 1 0 -9.2 0a4.6 4.6 0 1 0 9.2 0M580.6 567.8a4.6 4.6 0 1 0 -9.2 0a4.6 4.6 0 1 0 9.2 0M589.6 571.1a4.6 4.6 0 1 0 -9.2 0a4.6 4.6 0 1 0 9.2 0M598.6 572.2a4.6 4.6 0 1 0 -9.2 0a4.6 4.6 0 1 0 9.2 0M607.5 581.4a4.6 4.6 0 1 0 -9.2 0a4.6 4.6 0 1 0 9.2 0M616.5 587.4a4.6 4.6 0 1 0 -9.2 0a4.6 4.6 0 1 0 9.2 0M625.5 594.0a4.6 4.6 0 1 0 -9.2 0a4.6 4.6 0 1 0 9.2 0M634.5 597.4a4.6 4.6 0 1 0 -9.2 0a4.6 4.6 0 1 0 9.2 0M643.5 601.4a4.6 4.6 0 1 0 -9.2 0a4.6 4.6 0 1 0 9.2 0M652.4 607.4a4.6 4.6 0 1 0 -9.2 0a4.6 4.6 0 1 0 9.2 0M661.4 613.4a4.6 4.6 0 1 0 -9.2 0a4.6 4.6 0 1 0 9.2 0M670.4 620.7a4.6 4.6 0 1 0 -9.2 0a4.6 4.6 0 1 0 9.2 0M679.4 625.4a4.6 4.6 0 1 0 -9.2 0a4.6 4.6 0 1 0 9.2 0M688.4 628.1a4.6 4.6 0 1 0 -9.2 0a4.6 4.6 0 1 0 9.2 0M697.3 627.4a4.6 4.6 0 1 0 -9.2 0a4.6 4.6 0 1 0 9.2 0M706.3 629.4a4.6 4.6 0 1 0 -9.2 0a4.6 4.6 0 1 0 9.2 0M715.3 629.4a4.6 4.6 0 1 0 -9.2 0a4.6 4.6 0 1 0 9.2 0M724.3 632.8a4.6 4.6 0 1 0 -9.2 0a4.6 4.6 0 1 0 9.2 0M733.3 634.1a4.6 4.6 0 1 0 -9.2 0a4.6 4.6 0 1 0 9.2 0M742.2 636.8a4.6 4.6 0 1 0 -9.2 0a4.6 4.6 0 1 0 9.2 0M751.2 639.4a4.6 4.6 0 1 0 -9.2 0a4.6 4.6 0 1 0 9.2 0M760.2 640.8a4.6 4.6 0 1 0 -9.2 0a4.6 4.6 0 1 0 9.2 0M769.2 640.8a4.6 4.6 0 1 0 -9.2 0a4.6 4.6 0 1 0 9.2 0M778.2 643.4a4.6 4.6 0 1 0 -9.2 0a4.6 4.6 0 1 0 9.2 0M787.1 643.4a4.6 4.6 0 1 0 -9.2 0a4.6 4.6 0 1 0 9.2 0M796.1 643.4a4.6 4.6 0 1 0 -9.2 0a4.6 4.6 0 1 0 9.2 0M805.1 645.4a4.6 4.6 0 1 0 -9.2 0a4.6 4.6 0 1 0 9.2 0M814.1 645.4a4.6 4.6 0 1 0 -9.2 0a4.6 4.6 0 1 0 9.2 0M823.1 645.9a4.6 4.6 0 1 0 -9.2 0a4.6 4.6 0 1 0 9.2 0M832.0 646.5a4.6 4.6 0 1 0 -9.2 0a4.6 4.6 0 1 0 9.2 0M841.0 646.5a4.6 4.6 0 1 0 -9.2 0a4.6 4.6 0 1 0 9.2 0M850.0 646.5a4.6 4.6 0 1 0 -9.2 0a4.6 4.6 0 1 0 9.2 0M859.0 646.5a4.6 4.6 0 1 0 -9.2 0a4.6 4.6 0 1 0 9.2 0M868.0 646.5a4.6 4.6 0 1 0 -9.2 0a4.6 4.6 0 1 0 9.2 0M876.9 645.9a4.6 4.6 0 1 0 -9.2 0a4.6 4.6 0 1 0 9.2 0M885.9 646.5a4.6 4.6 0 1 0 -9.2 0a4.6 4.6 0 1 0 9.2 0M894.9 645.9a4.6 4.6 0 1 0 -9.2 0a4.6 4.6 0 1 0 9.2 0M903.9 646.5a4.6 4.6 0 1 0 -9.2 0a4.6 4.6 0 1 0 9.2 0M912.9 647.0a4.6 4.6 0 1 0 -9.2 0a4.6 4.6 0 1 0 9.2 0M921.8 645.4a4.6 4.6 0 1 0 -9.2 0a4.6 4.6 0 1 0 9.2 0M930.8 646.5a4.6 4.6 0 1 0 -9.2 0a4.6 4.6 0 1 0 9.2 0M939.8 647.0a4.6 4.6 0 1 0 -9.2 0a4.6 4.6 0 1 0 9.2 0M948.8 647.0a4.6 4.6 0 1 0 -9.2 0a4.6 4.6 0 1 0 9.2 0M957.8 647.6a4.6 4.6 0 1 0 -9.2 0a4.6 4.6 0 1 0 9.2 0M966.7 648.1a4.6 4.6 0 1 0 -9.2 0a4.6 4.6 0 1 0 9.2 0M975.7 649.2a4.6 4.6 0 1 0 -9.2 0a4.6 4.6 0 1 0 9.2 0M984.7 650.3a4.6 4.6 0 1 0 -9.2 0a4.6 4.6 0 1 0 9.2 0M993.7 654.6a4.6 4.6 0 1 0 -9.2 0a4.6 4.6 0 1 0 9.2 0M1002.7 655.7a4.6 4.6 0 1 0 -9.2 0a4.6 4.6 0 1 0 9.2 0M1011.6 653.0a4.6 4.6 0 1 0 -9.2 0a4.6 4.6 0 1 0 9.2 0M1020.6 658.4a4.6 4.6 0 1 0 -9.2 0a4.6 4.6 0 1 0 9.2 0M1029.6 657.3a4.6 4.6 0 1 0 -9.2 0a4.6 4.6 0 1 0 9.2 0M1038.6 655.1a4.6 4.6 0 1 0 -9.2 0a4.6 4.6 0 1 0 9.2 0M1047.6 659.5a4.6 4.6 0 1 0 -9.2 0a4.6 4.6 0 1 0 9.2 0M1056.5 660.5a4.6 4.6 0 1 0 -9.2 0a4.6 4.6 0 1 0 9.2 0M1065.5 655.1a4.6 4.6 0 1 0 -9.2 0a4.6 4.6 0 1 0 9.2 0M1074.5 648.6a4.6 4.6 0 1 0 -9.2 0a4.6 4.6 0 1 0 9.2 0M1083.5 643.2a4.6 4.6 0 1 0 -9.2 0a4.6 4.6 0 1 0 9.2 0M1092.5 638.4a4.6 4.6 0 1 0 -9.2 0a4.6 4.6 0 1 0 9.2 0M1101.4 635.7a4.6 4.6 0 1 0 -9.2 0a4.6 4.6 0 1 0 9.2 0M1110.4 635.0a4.6 4.6 0 1 0 -9.2 0a4.6 4.6 0 1 0 9.2 0M1119.4 635.0a4.6 4.6 0 1 0 -9.2 0a4.6 4.6 0 1 0 9.2 0M1128.4 635.5a4.6 4.6 0 1 0 -9.2 0a4.6 4.6 0 1 0 9.2 0M1137.4 638.4a4.6 4.6 0 1 0 -9.2 0a4.6 4.6 0 1 0 9.2 0M1146.3 637.3a4.6 4.6 0 1 0 -9.2 0a4.6 4.6 0 1 0 9.2 0M1155.3 635.1a4.6 4.6 0 1 0 -9.2 0a4.6 4.6 0 1 0 9.2 0M1164.3 634.1a4.6 4.6 0 1 0 -9.2 0a4.6 4.6 0 1 0 9.2 0M1173.3 627.0a4.6 4.6 0 1 0 -9.2 0a4.6 4.6 0 1 0 9.2 0M1182.3 622.7a4.6 4.6 0 1 0 -9.2 0a4.6 4.6 0 1 0 9.2 0M1191.2 618.9a4.6 4.6 0 1 0 -9.2 0a4.6 4.6 0 1 0 9.2 0M1200.2 615.9a4.6 4.6 0 1 0 -9.2 0a4.6 4.6 0 1 0 9.2 0M1209.2 604.5a4.6 4.6 0 1 0 -9.2 0a4.6 4.6 0 1 0 9.2 0M1218.2 601.5a4.6 4.6 0 1 0 -9.2 0a4.6 4.6 0 1 0 9.2 0M1227.2 600.3a4.6 4.6 0 1 0 -9.2 0a4.6 4.6 0 1 0 9.2 0M1236.1 597.3a4.6 4.6 0 1 0 -9.2 0a4.6 4.6 0 1 0 9.2 0M1245.1 594.9a4.6 4.6 0 1 0 -9.2 0a4.6 4.6 0 1 0 9.2 0M1254.1 595.5a4.6 4.6 0 1 0 -9.2 0a4.6 4.6 0 1 0 9.2 0M1263.1 593.7a4.6 4.6 0 1 0 -9.2 0a4.6 4.6 0 1 0 9.2 0M1272.1 582.8a4.6 4.6 0 1 0 -9.2 0a4.6 4.6 0 1 0 9.2 0M1281.0 589.4a4.6 4.6 0 1 0 -9.2 0a4.6 4.6 0 1 0 9.2 0M1290.0 590.0a4.6 4.6 0 1 0 -9.2 0a4.6 4.6 0 1 0 9.2 0M1299.0 591.9a4.6 4.6 0 1 0 -9.2 0a4.6 4.6 0 1 0 9.2 0M1308.0 591.9a4.6 4.6 0 1 0 -9.2 0a4.6 4.6 0 1 0 9.2 0M1317.0 585.8a4.6 4.6 0 1 0 -9.2 0a4.6 4.6 0 1 0 9.2 0M1325.9 577.4a4.6 4.6 0 1 0 -9.2 0a4.6 4.6 0 1 0 9.2 0M1334.9 557.7a4.6 4.6 0 1 0 -9.2 0a4.6 4.6 0 1 0 9.2 0M1343.9 556.7a4.6 4.6 0 1 0 -9.2 0a4.6 4.6 0 1 0 9.2 0M1352.9 550.4a4.6 4.6 0 1 0 -9.2 0a4.6 4.6 0 1 0 9.2 0M1361.9 550.4a4.6 4.6 0 1 0 -9.2 0a4.6 4.6 0 1 0 9.2 0M1370.8 538.6a4.6 4.6 0 1 0 -9.2 0a4.6 4.6 0 1 0 9.2 0M1379.8 529.1a4.6 4.6 0 1 0 -9.2 0a4.6 4.6 0 1 0 9.2 0M1388.8 526.8a4.6 4.6 0 1 0 -9.2 0a4.6 4.6 0 1 0 9.2 0M1397.8 508.2a4.6 4.6 0 1 0 -9.2 0a4.6 4.6 0 1 0 9.2 0M1406.8 522.1a4.6 4.6 0 1 0 -9.2 0a4.6 4.6 0 1 0 9.2 0M1415.7 521.2a4.6 4.6 0 1 0 -9.2 0a4.6 4.6 0 1 0 9.2 0M1424.7 523.9a4.6 4.6 0 1 0 -9.2 0a4.6 4.6 0 1 0 9.2 0M1433.7 523.9a4.6 4.6 0 1 0 -9.2 0a4.6 4.6 0 1 0 9.2 0M1442.7 531.7a4.6 4.6 0 1 0 -9.2 0a4.6 4.6 0 1 0 9.2 0M1451.7 527.3a4.6 4.6 0 1 0 -9.2 0a4.6 4.6 0 1 0 9.2 0M1460.6 513.4a4.6 4.6 0 1 0 -9.2 0a4.6 4.6 0 1 0 9.2 0M1469.6 515.2a4.6 4.6 0 1 0 -9.2 0a4.6 4.6 0 1 0 9.2 0M1478.6 510.8a4.6 4.6 0 1 0 -9.2 0a4.6 4.6 0 1 0 9.2 0M1487.6 522.1a4.6 4.6 0 1 0 -9.2 0a4.6 4.6 0 1 0 9.2 0M1496.6 536.9a4.6 4.6 0 1 0 -9.2 0a4.6 4.6 0 1 0 9.2 0M1505.5 530.8a4.6 4.6 0 1 0 -9.2 0a4.6 4.6 0 1 0 9.2 0M1514.5 539.5a4.6 4.6 0 1 0 -9.2 0a4.6 4.6 0 1 0 9.2 0M1523.5 543.8a4.6 4.6 0 1 0 -9.2 0a4.6 4.6 0 1 0 9.2 0M1532.5 551.6a4.6 4.6 0 1 0 -9.2 0a4.6 4.6 0 1 0 9.2 0M1541.5 546.5a4.6 4.6 0 1 0 -9.2 0a4.6 4.6 0 1 0 9.2 0M1550.4 549.5a4.6 4.6 0 1 0 -9.2 0a4.6 4.6 0 1 0 9.2 0M1559.4 552.6a4.6 4.6 0 1 0 -9.2 0a4.6 4.6 0 1 0 9.2 0M1568.4 560.4a4.6 4.6 0 1 0 -9.2 0a4.6 4.6 0 1 0 9.2 0M1577.4 562.1a4.6 4.6 0 1 0 -9.2 0a4.6 4.6 0 1 0 9.2 0M1586.4 556.9a4.6 4.6 0 1 0 -9.2 0a4.6 4.6 0 1 0 9.2 0M1595.3 558.6a4.6 4.6 0 1 0 -9.2 0a4.6 4.6 0 1 0 9.2 0M1604.3 563.0a4.6 4.6 0 1 0 -9.2 0a4.6 4.6 0 1 0 9.2 0M1613.3 564.7a4.6 4.6 0 1 0 -9.2 0a4.6 4.6 0 1 0 9.2 0M1622.3 560.4a4.6 4.6 0 1 0 -9.2 0a4.6 4.6 0 1 0 9.2 0M1631.3 563.0a4.6 4.6 0 1 0 -9.2 0a4.6 4.6 0 1 0 9.2 0M1640.2 569.1a4.6 4.6 0 1 0 -9.2 0a4.6 4.6 0 1 0 9.2 0M1649.2 566.5a4.6 4.6 0 1 0 -9.2 0a4.6 4.6 0 1 0 9.2 0M1658.2 566.5a4.6 4.6 0 1 0 -9.2 0a4.6 4.6 0 1 0 9.2 0M1667.2 572.5a4.6 4.6 0 1 0 -9.2 0a4.6 4.6 0 1 0 9.2 0M1676.2 571.7a4.6 4.6 0 1 0 -9.2 0a4.6 4.6 0 1 0 9.2 0M1685.1 582.1a4.6 4.6 0 1 0 -9.2 0a4.6 4.6 0 1 0 9.2 0M1694.1 582.1a4.6 4.6 0 1 0 -9.2 0a4.6 4.6 0 1 0 9.2 0M1703.1 583.8a4.6 4.6 0 1 0 -9.2 0a4.6 4.6 0 1 0 9.2 0M1712.1 584.7a4.6 4.6 0 1 0 -9.2 0a4.6 4.6 0 1 0 9.2 0M1721.1 594.2a4.6 4.6 0 1 0 -9.2 0a4.6 4.6 0 1 0 9.2 0M1730.0 586.4a4.6 4.6 0 1 0 -9.2 0a4.6 4.6 0 1 0 9.2 0M1739.0 590.8a4.6 4.6 0 1 0 -9.2 0a4.6 4.6 0 1 0 9.2 0M1748.0 592.5a4.6 4.6 0 1 0 -9.2 0a4.6 4.6 0 1 0 9.2 0M1757.0 594.2a4.6 4.6 0 1 0 -9.2 0a4.6 4.6 0 1 0 9.2 0M1766.0 603.8a4.6 4.6 0 1 0 -9.2 0a4.6 4.6 0 1 0 9.2 0M1774.9 609.0a4.6 4.6 0 1 0 -9.2 0a4.6 4.6 0 1 0 9.2 0M1783.9 598.6a4.6 4.6 0 1 0 -9.2 0a4.6 4.6 0 1 0 9.2 0M1792.9 615.1a4.6 4.6 0 1 0 -9.2 0a4.6 4.6 0 1 0 9.2 0M1801.9 624.6a4.6 4.6 0 1 0 -9.2 0a4.6 4.6 0 1 0 9.2 0M1810.9 629.8a4.6 4.6 0 1 0 -9.2 0a4.6 4.6 0 1 0 9.2 0" fill="none" stroke="#ff0000" stroke-width="1.7"/>
<path d="M136.0 655.9 L145.0 655.4 L153.9 648.9 L162.9 643.0 L171.9 643.5 L180.9 644.1 L189.9 644.1 L198.8 643.5 L207.8 644.6 L216.8 645.7 L225.8 644.6 L234.8 639.7 L243.7 633.2 L252.7 627.8 L261.7 624.6 L270.7 623.5 L279.7 627.3 L288.6 629.5 L297.6 630.5 L306.6 625.7 L315.6 628.9 L324.6 619.7 L333.5 619.7 L342.5 623.0 L351.5 621.4 L360.5 621.4 L369.5 617.6 L378.4 621.9 L387.4 614.9 L396.4 617.6 L405.4 615.4 L414.4 605.7 L423.3 599.2 L432.3 589.5 L441.3 583.5 L450.3 579.2 L459.3 581.9 L468.2 567.5 L477.2 561.1 L486.2 550.4 L495.2 543.0 L504.2 540.3 L513.1 529.5 L522.1 521.9 L531.1 529.5 L540.1 534.3 L549.1 526.2 L558.0 534.3 L567.0 543.5 L576.0 541.4 L585.0 540.3 L594.0 544.6 L602.9 553.2 L611.9 544.6 L620.9 550.5 L629.9 552.2 L638.9 555.4 L647.8 554.3 L656.8 563.0 L665.8 572.7 L674.8 570.3 L683.8 569.7 L692.7 571.8 L701.7 578.1 L710.7 570.0 L719.7 577.4 L728.7 572.7 L737.6 581.4 L746.6 579.4 L755.6 571.3 L764.6 580.0 L773.6 584.7 L782.5 587.4 L791.5 594.0 L800.5 595.4 L809.5 600.0 L818.5 594.6 L827.4 600.0 L836.4 611.4 L845.4 613.5 L854.4 619.5 L863.4 622.7 L872.3 624.3 L881.3 623.8 L890.3 623.2 L899.3 626.5 L908.3 624.9 L917.2 624.9 L926.2 629.2 L935.2 630.8 L944.2 632.4 L953.2 633.0 L962.1 637.3 L971.1 640.5 L980.1 642.2 L989.1 644.6 L998.1 648.6 L1007.0 649.7 L1016.0 652.4 L1025.0 654.6 L1034.0 655.1 L1043.0 650.3 L1051.9 650.8 L1060.9 653.0 L1069.9 653.5 L1078.9 651.9 L1087.9 645.4 L1096.8 642.2 L1105.8 635.1 L1114.8 634.6 L1123.8 634.6 L1132.8 633.5 L1141.7 634.6 L1150.7 632.4 L1159.7 634.6 L1168.7 633.5 L1177.7 631.4 L1186.6 632.7 L1195.6 630.3 L1204.6 628.5 L1213.6 626.7 L1222.6 628.5 L1231.5 628.5 L1240.5 627.9 L1249.5 626.7 L1258.5 625.5 L1267.5 623.1 L1276.4 623.7 L1285.4 621.3 L1294.4 620.7 L1303.4 621.3 L1312.4 620.7 L1321.3 617.1 L1330.3 617.7 L1339.3 621.3 L1348.3 614.1 L1357.3 617.7 L1366.2 614.4 L1375.2 615.0 L1384.2 614.1 L1393.2 612.4 L1402.2 609.8 L1411.1 615.0 L1420.1 607.2 L1429.1 609.8 L1438.1 605.5 L1447.1 608.1 L1456.0 605.5 L1465.0 599.4 L1474.0 603.7 L1483.0 605.5 L1492.0 587.2 L1500.9 590.7 L1509.9 592.4 L1518.9 594.2 L1527.9 595.0 L1536.9 595.1 L1545.8 601.6 L1554.8 598.6 L1563.8 609.0 L1572.8 606.4 L1581.8 611.6 L1590.7 617.7 L1599.7 617.7 L1608.7 617.7 L1617.7 623.8 L1626.7 624.6 L1635.6 628.1 L1644.6 625.5 L1653.6 629.8 L1662.6 630.7 L1671.6 631.6 L1680.5 632.4 L1689.5 637.6 L1698.5 637.6 L1707.5 640.2 L1716.5 638.5 L1725.4 639.4 L1734.4 642.0 L1743.4 643.7 L1752.4 643.7 L1761.4 644.6 L1770.3 643.7 L1779.3 643.7 L1788.3 644.6 L1797.3 644.6 L1806.3 644.6" fill="none" stroke="#0000ff" stroke-width="1.6" stroke-linejoin="round"/>
<path d="M140.6 655.9a4.6 4.6 0 1 0 -9.2 0a4.6 4.6 0 1 0 9.2 0M149.6 655.4a4.6 4.6 0 1 0 -9.2 0a4.6 4.6 0 1 0 9.2 0M158.5 648.9a4.6 4.6 0 1 0 -9.2 0a4.6 4.6 0 1 0 9.2 0M167.5 643.0a4.6 4.6 0 1 0 -9.2 0a4.6 4.6 0 1 0 9.2 0M176.5 643.5a4.6 4.6 0 1 0 -9.2 0a4.6 4.6 0 1 0 9.2 0M185.5 644.1a4.6 4.6 0 1 0 -9.2 0a4.6 4.6 0 1 0 9.2 0M194.5 644.1a4.6 4.6 0 1 0 -9.2 0a4.6 4.6 0 1 0 9.2 0M203.4 643.5a4.6 4.6 0 1 0 -9.2 0a4.6 4.6 0 1 0 9.2 0M212.4 644.6a4.6 4.6 0 1 0 -9.2 0a4.6 4.6 0 1 0 9.2 0M221.4 645.7a4.6 4.6 0 1 0 -9.2 0a4.6 4.6 0 1 0 9.2 0M230.4 644.6a4.6 4.6 0 1 0 -9.2 0a4.6 4.6 0 1 0 9.2 0M239.4 639.7a4.6 4.6 0 1 0 -9.2 0a4.6 4.6 0 1 0 9.2 0M248.3 633.2a4.6 4.6 0 1 0 -9.2 0a4.6 4.6 0 1 0 9.2 0M257.3 627.8a4.6 4.6 0 1 0 -9.2 0a4.6 4.6 0 1 0 9.2 0M266.3 624.6a4.6 4.6 0 1 0 -9.2 0a4.6 4.6 0 1 0 9.2 0M275.3 623.5a4.6 4.6 0 1 0 -9.2 0a4.6 4.6 0 1 0 9.2 0M284.3 627.3a4.6 4.6 0 1 0 -9.2 0a4.6 4.6 0 1 0 9.2 0M293.2 629.5a4.6 4.6 0 1 0 -9.2 0a4.6 4.6 0 1 0 9.2 0M302.2 630.5a4.6 4.6 0 1 0 -9.2 0a4.6 4.6 0 1 0 9.2 0M311.2 625.7a4.6 4.6 0 1 0 -9.2 0a4.6 4.6 0 1 0 9.2 0M320.2 628.9a4.6 4.6 0 1 0 -9.2 0a4.6 4.6 0 1 0 9.2 0M329.2 619.7a4.6 4.6 0 1 0 -9.2 0a4.6 4.6 0 1 0 9.2 0M338.1 619.7a4.6 4.6 0 1 0 -9.2 0a4.6 4.6 0 1 0 9.2 0M347.1 623.0a4.6 4.6 0 1 0 -9.2 0a4.6 4.6 0 1 0 9.2 0M356.1 621.4a4.6 4.6 0 1 0 -9.2 0a4.6 4.6 0 1 0 9.2 0M365.1 621.4a4.6 4.6 0 1 0 -9.2 0a4.6 4.6 0 1 0 9.2 0M374.1 617.6a4.6 4.6 0 1 0 -9.2 0a4.6 4.6 0 1 0 9.2 0M383.0 621.9a4.6 4.6 0 1 0 -9.2 0a4.6 4.6 0 1 0 9.2 0M392.0 614.9a4.6 4.6 0 1 0 -9.2 0a4.6 4.6 0 1 0 9.2 0M401.0 617.6a4.6 4.6 0 1 0 -9.2 0a4.6 4.6 0 1 0 9.2 0M410.0 615.4a4.6 4.6 0 1 0 -9.2 0a4.6 4.6 0 1 0 9.2 0M419.0 605.7a4.6 4.6 0 1 0 -9.2 0a4.6 4.6 0 1 0 9.2 0M427.9 599.2a4.6 4.6 0 1 0 -9.2 0a4.6 4.6 0 1 0 9.2 0M436.9 589.5a4.6 4.6 0 1 0 -9.2 0a4.6 4.6 0 1 0 9.2 0M445.9 583.5a4.6 4.6 0 1 0 -9.2 0a4.6 4.6 0 1 0 9.2 0M454.9 579.2a4.6 4.6 0 1 0 -9.2 0a4.6 4.6 0 1 0 9.2 0M463.9 581.9a4.6 4.6 0 1 0 -9.2 0a4.6 4.6 0 1 0 9.2 0M472.8 567.5a4.6 4.6 0 1 0 -9.2 0a4.6 4.6 0 1 0 9.2 0M481.8 561.1a4.6 4.6 0 1 0 -9.2 0a4.6 4.6 0 1 0 9.2 0M490.8 550.4a4.6 4.6 0 1 0 -9.2 0a4.6 4.6 0 1 0 9.2 0M499.8 543.0a4.6 4.6 0 1 0 -9.2 0a4.6 4.6 0 1 0 9.2 0M508.8 540.3a4.6 4.6 0 1 0 -9.2 0a4.6 4.6 0 1 0 9.2 0M517.7 529.5a4.6 4.6 0 1 0 -9.2 0a4.6 4.6 0 1 0 9.2 0M526.7 521.9a4.6 4.6 0 1 0 -9.2 0a4.6 4.6 0 1 0 9.2 0M535.7 529.5a4.6 4.6 0 1 0 -9.2 0a4.6 4.6 0 1 0 9.2 0M544.7 534.3a4.6 4.6 0 1 0 -9.2 0a4.6 4.6 0 1 0 9.2 0M553.7 526.2a4.6 4.6 0 1 0 -9.2 0a4.6 4.6 0 1 0 9.2 0M562.6 534.3a4.6 4.6 0 1 0 -9.2 0a4.6 4.6 0 1 0 9.2 0M571.6 543.5a4.6 4.6 0 1 0 -9.2 0a4.6 4.6 0 1 0 9.2 0M580.6 541.4a4.6 4.6 0 1 0 -9.2 0a4.6 4.6 0 1 0 9.2 0M589.6 540.3a4.6 4.6 0 1 0 -9.2 0a4.6 4.6 0 1 0 9.2 0M598.6 544.6a4.6 4.6 0 1 0 -9.2 0a4.6 4.6 0 1 0 9.2 0M607.5 553.2a4.6 4.6 0 1 0 -9.2 0a4.6 4.6 0 1 0 9.2 0M616.5 544.6a4.6 4.6 0 1 0 -9.2 0a4.6 4.6 0 1 0 9.2 0M625.5 550.5a4.6 4.6 0 1 0 -9.2 0a4.6 4.6 0 1 0 9.2 0M634.5 552.2a4.6 4.6 0 1 0 -9.2 0a4.6 4.6 0 1 0 9.2 0M643.5 555.4a4.6 4.6 0 1 0 -9.2 0a4.6 4.6 0 1 0 9.2 0M652.4 554.3a4.6 4.6 0 1 0 -9.2 0a4.6 4.6 0 1 0 9.2 0M661.4 563.0a4.6 4.6 0 1 0 -9.2 0a4.6 4.6 0 1 0 9.2 0M670.4 572.7a4.6 4.6 0 1 0 -9.2 0a4.6 4.6 0 1 0 9.2 0M679.4 570.3a4.6 4.6 0 1 0 -9.2 0a4.6 4.6 0 1 0 9.2 0M688.4 569.7a4.6 4.6 0 1 0 -9.2 0a4.6 4.6 0 1 0 9.2 0M697.3 571.8a4.6 4.6 0 1 0 -9.2 0a4.6 4.6 0 1 0 9.2 0M706.3 578.1a4.6 4.6 0 1 0 -9.2 0a4.6 4.6 0 1 0 9.2 0M715.3 570.0a4.6 4.6 0 1 0 -9.2 0a4.6 4.6 0 1 0 9.2 0M724.3 577.4a4.6 4.6 0 1 0 -9.2 0a4.6 4.6 0 1 0 9.2 0M733.3 572.7a4.6 4.6 0 1 0 -9.2 0a4.6 4.6 0 1 0 9.2 0M742.2 581.4a4.6 4.6 0 1 0 -9.2 0a4.6 4.6 0 1 0 9.2 0M751.2 579.4a4.6 4.6 0 1 0 -9.2 0a4.6 4.6 0 1 0 9.2 0M760.2 571.3a4.6 4.6 0 1 0 -9.2 0a4.6 4.6 0 1 0 9.2 0M769.2 580.0a4.6 4.6 0 1 0 -9.2 0a4.6 4.6 0 1 0 9.2 0M778.2 584.7a4.6 4.6 0 1 0 -9.2 0a4.6 4.6 0 1 0 9.2 0M787.1 587.4a4.6 4.6 0 1 0 -9.2 0a4.6 4.6 0 1 0 9.2 0M796.1 594.0a4.6 4.6 0 1 0 -9.2 0a4.6 4.6 0 1 0 9.2 0M805.1 595.4a4.6 4.6 0 1 0 -9.2 0a4.6 4.6 0 1 0 9.2 0M814.1 600.0a4.6 4.6 0 1 0 -9.2 0a4.6 4.6 0 1 0 9.2 0M823.1 594.6a4.6 4.6 0 1 0 -9.2 0a4.6 4.6 0 1 0 9.2 0M832.0 600.0a4.6 4.6 0 1 0 -9.2 0a4.6 4.6 0 1 0 9.2 0M841.0 611.4a4.6 4.6 0 1 0 -9.2 0a4.6 4.6 0 1 0 9.2 0M850.0 613.5a4.6 4.6 0 1 0 -9.2 0a4.6 4.6 0 1 0 9.2 0M859.0 619.5a4.6 4.6 0 1 0 -9.2 0a4.6 4.6 0 1 0 9.2 0M868.0 622.7a4.6 4.6 0 1 0 -9.2 0a4.6 4.6 0 1 0 9.2 0M876.9 624.3a4.6 4.6 0 1 0 -9.2 0a4.6 4.6 0 1 0 9.2 0M885.9 623.8a4.6 4.6 0 1 0 -9.2 0a4.6 4.6 0 1 0 9.2 0M894.9 623.2a4.6 4.6 0 1 0 -9.2 0a4.6 4.6 0 1 0 9.2 0M903.9 626.5a4.6 4.6 0 1 0 -9.2 0a4.6 4.6 0 1 0 9.2 0M912.9 624.9a4.6 4.6 0 1 0 -9.2 0a4.6 4.6 0 1 0 9.2 0M921.8 624.9a4.6 4.6 0 1 0 -9.2 0a4.6 4.6 0 1 0 9.2 0M930.8 629.2a4.6 4.6 0 1 0 -9.2 0a4.6 4.6 0 1 0 9.2 0M939.8 630.8a4.6 4.6 0 1 0 -9.2 0a4.6 4.6 0 1 0 9.2 0M948.8 632.4a4.6 4.6 0 1 0 -9.2 0a4.6 4.6 0 1 0 9.2 0M957.8 633.0a4.6 4.6 0 1 0 -9.2 0a4.6 4.6 0 1 0 9.2 0M966.7 637.3a4.6 4.6 0 1 0 -9.2 0a4.6 4.6 0 1 0 9.2 0M975.7 640.5a4.6 4.6 0 1 0 -9.2 0a4.6 4.6 0 1 0 9.2 0M984.7 642.2a4.6 4.6 0 1 0 -9.2 0a4.6 4.6 0 1 0 9.2 0M993.7 644.6a4.6 4.6 0 1 0 -9.2 0a4.6 4.6 0 1 0 9.2 0M1002.7 648.6a4.6 4.6 0 1 0 -9.2 0a4.6 4.6 0 1 0 9.2 0M1011.6 649.7a4.6 4.6 0 1 0 -9.2 0a4.6 4.6 0 1 0 9.2 0M1020.6 652.4a4.6 4.6 0 1 0 -9.2 0a4.6 4.6 0 1 0 9.2 0M1029.6 654.6a4.6 4.6 0 1 0 -9.2 0a4.6 4.6 0 1 0 9.2 0M1038.6 655.1a4.6 4.6 0 1 0 -9.2 0a4.6 4.6 0 1 0 9.2 0M1047.6 650.3a4.6 4.6 0 1 0 -9.2 0a4.6 4.6 0 1 0 9.2 0M1056.5 650.8a4.6 4.6 0 1 0 -9.2 0a4.6 4.6 0 1 0 9.2 0M1065.5 653.0a4.6 4.6 0 1 0 -9.2 0a4.6 4.6 0 1 0 9.2 0M1074.5 653.5a4.6 4.6 0 1 0 -9.2 0a4.6 4.6 0 1 0 9.2 0M1083.5 651.9a4.6 4.6 0 1 0 -9.2 0a4.6 4.6 0 1 0 9.2 0M1092.5 645.4a4.6 4.6 0 1 0 -9.2 0a4.6 4.6 0 1 0 9.2 0M1101.4 642.2a4.6 4.6 0 1 0 -9.2 0a4.6 4.6 0 1 0 9.2 0M1110.4 635.1a4.6 4.6 0 1 0 -9.2 0a4.6 4.6 0 1 0 9.2 0M1119.4 634.6a4.6 4.6 0 1 0 -9.2 0a4.6 4.6 0 1 0 9.2 0M1128.4 634.6a4.6 4.6 0 1 0 -9.2 0a4.6 4.6 0 1 0 9.2 0M1137.4 633.5a4.6 4.6 0 1 0 -9.2 0a4.6 4.6 0 1 0 9.2 0M1146.3 634.6a4.6 4.6 0 1 0 -9.2 0a4.6 4.6 0 1 0 9.2 0M1155.3 632.4a4.6 4.6 0 1 0 -9.2 0a4.6 4.6 0 1 0 9.2 0M1164.3 634.6a4.6 4.6 0 1 0 -9.2 0a4.6 4.6 0 1 0 9.2 0M1173.3 633.5a4.6 4.6 0 1 0 -9.2 0a4.6 4.6 0 1 0 9.2 0M1182.3 631.4a4.6 4.6 0 1 0 -9.2 0a4.6 4.6 0 1 0 9.2 0M1191.2 632.7a4.6 4.6 0 1 0 -9.2 0a4.6 4.6 0 1 0 9.2 0M1200.2 630.3a4.6 4.6 0 1 0 -9.2 0a4.6 4.6 0 1 0 9.2 0M1209.2 628.5a4.6 4.6 0 1 0 -9.2 0a4.6 4.6 0 1 0 9.2 0M1218.2 626.7a4.6 4.6 0 1 0 -9.2 0a4.6 4.6 0 1 0 9.2 0M1227.2 628.5a4.6 4.6 0 1 0 -9.2 0a4.6 4.6 0 1 0 9.2 0M1236.1 628.5a4.6 4.6 0 1 0 -9.2 0a4.6 4.6 0 1 0 9.2 0M1245.1 627.9a4.6 4.6 0 1 0 -9.2 0a4.6 4.6 0 1 0 9.2 0M1254.1 626.7a4.6 4.6 0 1 0 -9.2 0a4.6 4.6 0 1 0 9.2 0M1263.1 625.5a4.6 4.6 0 1 0 -9.2 0a4.6 4.6 0 1 0 9.2 0M1272.1 623.1a4.6 4.6 0 1 0 -9.2 0a4.6 4.6 0 1 0 9.2 0M1281.0 623.7a4.6 4.6 0 1 0 -9.2 0a4.6 4.6 0 1 0 9.2 0M1290.0 621.3a4.6 4.6 0 1 0 -9.2 0a4.6 4.6 0 1 0 9.2 0M1299.0 620.7a4.6 4.6 0 1 0 -9.2 0a4.6 4.6 0 1 0 9.2 0M1308.0 621.3a4.6 4.6 0 1 0 -9.2 0a4.6 4.6 0 1 0 9.2 0M1317.0 620.7a4.6 4.6 0 1 0 -9.2 0a4.6 4.6 0 1 0 9.2 0M1325.9 617.1a4.6 4.6 0 1 0 -9.2 0a4.6 4.6 0 1 0 9.2 0M1334.9 617.7a4.6 4.6 0 1 0 -9.2 0a4.6 4.6 0 1 0 9.2 0M1343.9 621.3a4.6 4.6 0 1 0 -9.2 0a4.6 4.6 0 1 0 9.2 0M1352.9 614.1a4.6 4.6 0 1 0 -9.2 0a4.6 4.6 0 1 0 9.2 0M1361.9 617.7a4.6 4.6 0 1 0 -9.2 0a4.6 4.6 0 1 0 9.2 0M1370.8 614.4a4.6 4.6 0 1 0 -9.2 0a4.6 4.6 0 1 0 9.2 0M1379.8 615.0a4.6 4.6 0 1 0 -9.2 0a4.6 4.6 0 1 0 9.2 0M1388.8 614.1a4.6 4.6 0 1 0 -9.2 0a4.6 4.6 0 1 0 9.2 0M1397.8 612.4a4.6 4.6 0 1 0 -9.2 0a4.6 4.6 0 1 0 9.2 0M1406.8 609.8a4.6 4.6 0 1 0 -9.2 0a4.6 4.6 0 1 0 9.2 0M1415.7 615.0a4.6 4.6 0 1 0 -9.2 0a4.6 4.6 0 1 0 9.2 0M1424.7 607.2a4.6 4.6 0 1 0 -9.2 0a4.6 4.6 0 1 0 9.2 0M1433.7 609.8a4.6 4.6 0 1 0 -9.2 0a4.6 4.6 0 1 0 9.2 0M1442.7 605.5a4.6 4.6 0 1 0 -9.2 0a4.6 4.6 0 1 0 9.2 0M1451.7 608.1a4.6 4.6 0 1 0 -9.2 0a4.6 4.6 0 1 0 9.2 0M1460.6 605.5a4.6 4.6 0 1 0 -9.2 0a4.6 4.6 0 1 0 9.2 0M1469.6 599.4a4.6 4.6 0 1 0 -9.2 0a4.6 4.6 0 1 0 9.2 0M1478.6 603.7a4.6 4.6 0 1 0 -9.2 0a4.6 4.6 0 1 0 9.2 0M1487.6 605.5a4.6 4.6 0 1 0 -9.2 0a4.6 4.6 0 1 0 9.2 0M1496.6 587.2a4.6 4.6 0 1 0 -9.2 0a4.6 4.6 0 1 0 9.2 0M1505.5 590.7a4.6 4.6 0 1 0 -9.2 0a4.6 4.6 0 1 0 9.2 0M1514.5 592.4a4.6 4.6 0 1 0 -9.2 0a4.6 4.6 0 1 0 9.2 0M1523.5 594.2a4.6 4.6 0 1 0 -9.2 0a4.6 4.6 0 1 0 9.2 0M1532.5 595.0a4.6 4.6 0 1 0 -9.2 0a4.6 4.6 0 1 0 9.2 0M1541.5 595.1a4.6 4.6 0 1 0 -9.2 0a4.6 4.6 0 1 0 9.2 0M1550.4 601.6a4.6 4.6 0 1 0 -9.2 0a4.6 4.6 0 1 0 9.2 0M1559.4 598.6a4.6 4.6 0 1 0 -9.2 0a4.6 4.6 0 1 0 9.2 0M1568.4 609.0a4.6 4.6 0 1 0 -9.2 0a4.6 4.6 0 1 0 9.2 0M1577.4 606.4a4.6 4.6 0 1 0 -9.2 0a4.6 4.6 0 1 0 9.2 0M1586.4 611.6a4.6 4.6 0 1 0 -9.2 0a4.6 4.6 0 1 0 9.2 0M1595.3 617.7a4.6 4.6 0 1 0 -9.2 0a4.6 4.6 0 1 0 9.2 0M1604.3 617.7a4.6 4.6 0 1 0 -9.2 0a4.6 4.6 0 1 0 9.2 0M1613.3 617.7a4.6 4.6 0 1 0 -9.2 0a4.6 4.6 0 1 0 9.2 0M1622.3 623.8a4.6 4.6 0 1 0 -9.2 0a4.6 4.6 0 1 0 9.2 0M1631.3 624.6a4.6 4.6 0 1 0 -9.2 0a4.6 4.6 0 1 0 9.2 0M1640.2 628.1a4.6 4.6 0 1 0 -9.2 0a4.6 4.6 0 1 0 9.2 0M1649.2 625.5a4.6 4.6 0 1 0 -9.2 0a4.6 4.6 0 1 0 9.2 0M1658.2 629.8a4.6 4.6 0 1 0 -9.2 0a4.6 4.6 0 1 0 9.2 0M1667.2 630.7a4.6 4.6 0 1 0 -9.2 0a4.6 4.6 0 1 0 9.2 0M1676.2 631.6a4.6 4.6 0 1 0 -9.2 0a4.6 4.6 0 1 0 9.2 0M1685.1 632.4a4.6 4.6 0 1 0 -9.2 0a4.6 4.6 0 1 0 9.2 0M1694.1 637.6a4.6 4.6 0 1 0 -9.2 0a4.6 4.6 0 1 0 9.2 0M1703.1 637.6a4.6 4.6 0 1 0 -9.2 0a4.6 4.6 0 1 0 9.2 0M1712.1 640.2a4.6 4.6 0 1 0 -9.2 0a4.6 4.6 0 1 0 9.2 0M1721.1 638.5a4.6 4.6 0 1 0 -9.2 0a4.6 4.6 0 1 0 9.2 0M1730.0 639.4a4.6 4.6 0 1 0 -9.2 0a4.6 4.6 0 1 0 9.2 0M1739.0 642.0a4.6 4.6 0 1 0 -9.2 0a4.6 4.6 0 1 0 9.2 0M1748.0 643.7a4.6 4.6 0 1 0 -9.2 0a4.6 4.6 0 1 0 9.2 0M1757.0 643.7a4.6 4.6 0 1 0 -9.2 0a4.6 4.6 0 1 0 9.2 0M1766.0 644.6a4.6 4.6 0 1 0 -9.2 0a4.6 4.6 0 1 0 9.2 0M1774.9 643.7a4.6 4.6 0 1 0 -9.2 0a4.6 4.6 0 1 0 9.2 0M1783.9 643.7a4.6 4.6 0 1 0 -9.2 0a4.6 4.6 0 1 0 9.2 0M1792.9 644.6a4.6 4.6 0 1 0 -9.2 0a4.6 4.6 0 1 0 9.2 0M1801.9 644.6a4.6 4.6 0 1 0 -9.2 0a4.6 4.6 0 1 0 9.2 0M1810.9 644.6a4.6 4.6 0 1 0 -9.2 0a4.6 4.6 0 1 0 9.2 0" fill="none" stroke="#0000ff" stroke-width="1.7"/>
<rect x="127.0" y="35.8" width="1694.5" height="637.4" fill="none" stroke="#262626" stroke-width="4.0"/>
<path d="M194.8 673.2V654.4000000000001M194.8 35.8V54.599999999999994M262.6 673.2V654.4000000000001M262.6 35.8V54.599999999999994M330.3 673.2V654.4000000000001M330.3 35.8V54.599999999999994M398.1 673.2V654.4000000000001M398.1 35.8V54.599999999999994M465.9 673.2V654.4000000000001M465.9 35.8V54.599999999999994M533.7 673.2V654.4000000000001M533.7 35.8V54.599999999999994M601.5 673.2V654.4000000000001M601.5 35.8V54.599999999999994M669.2 673.2V654.4000000000001M669.2 35.8V54.599999999999994M737.0 673.2V654.4000000000001M737.0 35.8V54.599999999999994M804.8 673.2V654.4000000000001M804.8 35.8V54.599999999999994M872.6 673.2V654.4000000000001M872.6 35.8V54.599999999999994M940.4 673.2V654.4000000000001M940.4 35.8V54.599999999999994M1008.1 673.2V654.4000000000001M1008.1 35.8V54.599999999999994M1075.9 673.2V654.4000000000001M1075.9 35.8V54.599999999999994M1143.7 673.2V654.4000000000001M1143.7 35.8V54.599999999999994M1211.5 673.2V654.4000000000001M1211.5 35.8V54.599999999999994M1279.3 673.2V654.4000000000001M1279.3 35.8V54.599999999999994M1347.0 673.2V654.4000000000001M1347.0 35.8V54.599999999999994M1414.8 673.2V654.4000000000001M1414.8 35.8V54.599999999999994M1482.6 673.2V654.4000000000001M1482.6 35.8V54.599999999999994M1550.4 673.2V654.4000000000001M1550.4 35.8V54.599999999999994M1618.2 673.2V654.4000000000001M1618.2 35.8V54.599999999999994M1685.9 673.2V654.4000000000001M1685.9 35.8V54.599999999999994M1753.7 673.2V654.4000000000001M1753.7 35.8V54.599999999999994M127.0 602.4H145.8M1821.5 602.4H1802.7M127.0 531.6H145.8M1821.5 531.6H1802.7M127.0 460.7H145.8M1821.5 460.7H1802.7M127.0 389.9H145.8M1821.5 389.9H1802.7M127.0 319.1H145.8M1821.5 319.1H1802.7M127.0 248.3H145.8M1821.5 248.3H1802.7M127.0 177.4H145.8M1821.5 177.4H1802.7M127.0 106.6H145.8M1821.5 106.6H1802.7" stroke="#262626" stroke-width="4.0" fill="none"/>
<g font-size="38.0" text-anchor="middle"><text x="129.4" y="711.6">0</text><text x="194.4" y="711.6">1</text><text x="263.5" y="711.6">2</text><text x="330.7" y="711.6">3</text><text x="399.6" y="711.6">4</text><text x="467.1" y="711.6">5</text><text x="534.4" y="711.6">6</text><text x="601.4" y="711.6">7</text><text x="671.6" y="711.6">8</text><text x="738.8" y="711.6">9</text><text x="807.4" y="711.6">10</text><text x="874.8" y="711.6">11</text><text x="943.6" y="711.6">12</text><text x="1008.5" y="711.6">13</text><text x="1078.9" y="711.6">14</text><text x="1144.5" y="711.6">15</text><text x="1211.9" y="711.6">16</text><text x="1279.3" y="711.6">17</text><text x="1349.0" y="711.6">18</text><text x="1416.2" y="711.6">19</text><text x="1483.4" y="711.6">20</text><text x="1552.4" y="711.6">21</text><text x="1622.6" y="711.6">22</text><text x="1686.1" y="711.6">23</text><text x="1755.0" y="711.6">24</text></g>
<g font-size="38.0" text-anchor="end"><text x="121.9" y="681.4">0</text><text x="120.1" y="615.1">0.01</text><text x="118.3" y="545.9">0.02</text><text x="116.9" y="475.2">0.03</text><text x="117.8" y="404.0">0.04</text><text x="116.5" y="331.8">0.05</text><text x="116.5" y="261.1">0.06</text><text x="119.3" y="190.0">0.07</text><text x="121.7" y="117.2">0.08</text><text x="119.5" y="51.0">0.09</text></g>
<text x="1000.5" y="744.5" font-size="37.35" text-anchor="middle">Time / s</text>
<text transform="translate(36.7,349.4) rotate(-90)" font-size="37.35" text-anchor="middle">Velocity magnitude IVI / m/s</text>
<rect x="214.9" y="95.5" width="637.3" height="165.9" fill="#fff" stroke="#000" stroke-width="2.9"/>
<path d="M232.3 125.0H257.2" stroke="#ff0000" stroke-width="1.9"/>
<path d="M240.45 120.75l8.5 8.5M240.45 129.25l8.5 -8.5" stroke="#ff0000" stroke-width="1.8"/>
<text x="271.0" y="136.0" font-size="37.2">Average Velocity Magnitude Trachea</text>
<path d="M232.8 163.5H257.6" stroke="#0000ff" stroke-width="1.9"/>
<path d="M241.95 159.25l8.5 8.5M241.95 167.75l8.5 -8.5" stroke="#0000ff" stroke-width="1.8"/>
<text x="271.0" y="172.8" font-size="37.2">Average Velocity Magnitude Nostril</text>
<path d="M235.1 202.9H260.0" stroke="#ff0000" stroke-width="1.9"/>
<circle cx="247.3" cy="202.9" r="4.6" fill="none" stroke="#ff0000" stroke-width="1.7"/>
<text x="269.2" y="210.0" font-size="37.2">Average Standard Deviation Trachea</text>
<path d="M233.8 235.7H258.4" stroke="#0000ff" stroke-width="1.9"/>
<circle cx="246.8" cy="235.7" r="4.6" fill="none" stroke="#0000ff" stroke-width="1.7"/>
<text x="268.6" y="247.0" font-size="37.2">Average Standard Deviation Nostril</text>
</svg>
</body></html>
